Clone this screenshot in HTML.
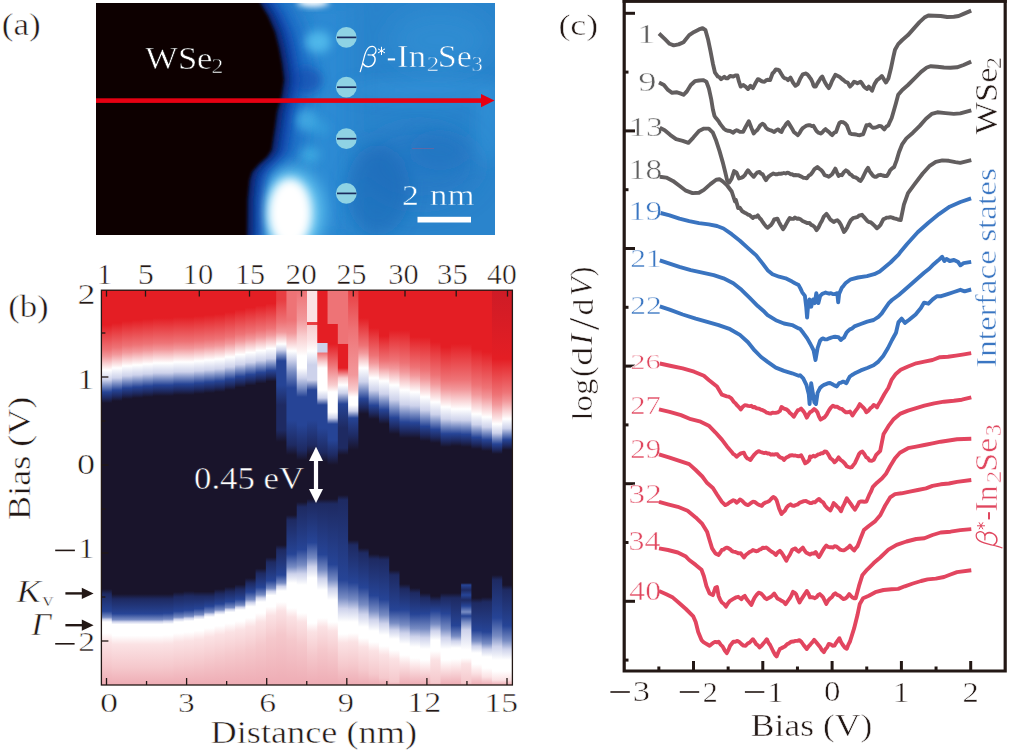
<!DOCTYPE html><html><head><meta charset="utf-8"><title>fig</title><style>html,body{margin:0;padding:0;background:#fff;}svg{display:block}</style></head><body><svg width="1010" height="750" viewBox="0 0 1010 750" font-family="'Liberation Serif', serif"><defs><clipPath id="ca"><rect x="96" y="3" width="399" height="232"/></clipPath><filter id="b1" x="-50%" y="-50%" width="200%" height="200%"><feGaussianBlur stdDeviation="1.5"/></filter><filter id="b3" x="-50%" y="-50%" width="200%" height="200%"><feGaussianBlur stdDeviation="3"/></filter><filter id="b5" x="-50%" y="-50%" width="200%" height="200%"><feGaussianBlur stdDeviation="5"/></filter><filter id="b8" x="-50%" y="-50%" width="200%" height="200%"><feGaussianBlur stdDeviation="8"/></filter><filter id="b12" x="-50%" y="-50%" width="200%" height="200%"><feGaussianBlur stdDeviation="12"/></filter></defs><g clip-path="url(#ca)"><rect x="96" y="3" width="399" height="232" fill="#2a84cc"/><g filter="url(#b12)"><rect x="300" y="0" width="50" height="240" fill="#2d8fd8" opacity="0.6"/><ellipse cx="440" cy="40" rx="50" ry="30" fill="#3296da" opacity="0.45"/><ellipse cx="420" cy="165" rx="60" ry="40" fill="#1f72c0" opacity="0.45"/></g><g filter="url(#b8)"><ellipse cx="425" cy="90" rx="80" ry="9" fill="#3aa0e4" opacity="0.45"/><ellipse cx="378" cy="190" rx="32" ry="45" fill="#1a62b2" opacity="0.45"/><ellipse cx="488" cy="125" rx="10" ry="40" fill="#3aa0e4" opacity="0.4"/><ellipse cx="440" cy="150" rx="30" ry="20" fill="#1e6cbc" opacity="0.35"/></g><path d="M80,-10 L287.0,-5 L290.0,3 L298.0,16 L305.0,32 L309.0,48 L312.0,64 L314.0,80 L311.5,96 L307.0,112 L305.0,127 L303.0,140 L301.5,150 L297.0,157 L289.0,164 L282.0,172 L279.5,180 L277.5,200 L277.0,240 L80,245 Z" fill="#1f6cc6" filter="url(#b8)" opacity="0.9"/><g filter="url(#b5)"><ellipse cx="318" cy="42" rx="13" ry="11" fill="#56c0ee" opacity="0.85"/><ellipse cx="306" cy="120" rx="12" ry="11" fill="#45b2e6" opacity="0.75"/><ellipse cx="310" cy="155" rx="10" ry="8" fill="#45b2e6" opacity="0.7"/><ellipse cx="320" cy="128" rx="10" ry="7" fill="#3aa8e2" opacity="0.5"/></g><g filter="url(#b8)"><ellipse cx="291" cy="212" rx="33" ry="44" fill="#62c4f0"/></g><g filter="url(#b5)"><ellipse cx="306" cy="80" rx="16" ry="13" fill="#1554b4" opacity="0.8"/></g><path d="M80,-10 L273.0,-5 L276.0,3 L284.0,16 L291.0,32 L295.0,48 L298.0,64 L300.0,80 L297.5,96 L293.0,112 L291.0,127 L289.0,140 L287.5,150 L283.0,157 L275.0,164 L268.0,172 L265.5,180 L263.5,200 L263.0,240 L80,245 Z" fill="#0d40a4" filter="url(#b5)" opacity="0.8"/><path d="M80,-10 L263.0,-5 L266.0,3 L274.0,16 L281.0,32 L285.0,48 L288.0,64 L290.0,80 L287.5,96 L283.0,112 L281.0,127 L279.0,140 L277.5,150 L273.0,157 L265.0,164 L258.0,172 L255.5,180 L253.5,200 L253.0,240 L80,245 Z" fill="#08206a" filter="url(#b3)"/><g filter="url(#b5)"><ellipse cx="290" cy="213" rx="22" ry="35" fill="#ffffff"/></g><g filter="url(#b3)"><ellipse cx="313" cy="2" rx="16" ry="5" fill="#ffffff"/></g><path d="M80,-10 L257.0,-5 L260.0,3 L268.0,16 L275.0,32 L279.0,48 L282.0,64 L284.0,80 L281.5,96 L277.0,112 L275.0,127 L273.0,140 L271.5,150 L267.0,157 L259.0,164 L252.0,172 L249.5,180 L247.5,200 L247.0,240 L80,245 Z" fill="#080606" filter="url(#b1)"/><line x1="412" y1="148.5" x2="434" y2="148.5" stroke="#9a5a8a" stroke-width="0.8" opacity="0.6"/></g><rect x="96" y="98.3" width="386" height="4.6" fill="#e60012"/><path d="M481,94 L494.5,100.5 L481,107.2 Z" fill="#e60012"/><circle cx="346.3" cy="37.4" r="10.4" fill="#8fd3e4"/><rect x="337" y="36.55" width="19.4" height="1.7" fill="#1b2a5c"/><circle cx="346.3" cy="87.2" r="10.4" fill="#8fd3e4"/><rect x="337" y="86.35" width="19.4" height="1.7" fill="#1b2a5c"/><circle cx="346.3" cy="138.7" r="10.4" fill="#8fd3e4"/><rect x="337" y="137.85" width="19.4" height="1.7" fill="#1b2a5c"/><circle cx="346.3" cy="193.4" r="10.4" fill="#8fd3e4"/><rect x="337" y="192.55" width="19.4" height="1.7" fill="#1b2a5c"/><rect x="417.5" y="216.8" width="53.5" height="5.7" fill="#ffffff"/><text transform="translate(1.72,35.22) scale(1.1006,1)" font-size="31.98" fill="#231815" stroke="#ffffff" stroke-width="0.5">(a)</text><text transform="translate(145.30,69.31) scale(1.0602,1)" font-size="32.59" fill="#ffffff" stroke="#080606" stroke-width="0.5">WSe</text><text transform="translate(211.54,73.00) scale(1.1239,1)" font-size="20.91" fill="#ffffff" stroke="#080606" stroke-width="0.5">2</text><g fill="none" stroke="#ffffff" stroke-linecap="round" stroke-linejoin="round"><path d="M360.20,71.70 C360.47,70.83 361.27,68.43 361.80,66.50 C362.33,64.57 362.87,62.15 363.40,60.10 C363.93,58.05 364.40,55.93 365.00,54.20 C365.60,52.47 366.25,50.88 367.00,49.70 C367.75,48.52 368.63,47.65 369.50,47.10 C370.37,46.55 371.37,46.40 372.20,46.40 C373.03,46.40 373.90,46.62 374.50,47.10 C375.10,47.58 375.57,48.57 375.80,49.30 C376.03,50.03 376.07,50.78 375.90,51.50 C375.73,52.22 375.28,53.07 374.80,53.60 C374.32,54.13 373.73,54.47 373.00,54.70 C372.27,54.93 371.23,54.97 370.40,55.00 C369.57,55.03 368.40,54.92 368.00,54.90" stroke-width="1.2"/><path d="M372.60,55.00 C372.90,55.27 373.98,55.90 374.40,56.60 C374.82,57.30 375.10,58.23 375.10,59.20 C375.10,60.17 374.82,61.43 374.40,62.40 C373.98,63.37 373.33,64.33 372.60,65.00 C371.87,65.67 370.93,66.13 370.00,66.40 C369.07,66.67 367.87,66.73 367.00,66.60 C366.13,66.47 365.42,66.05 364.80,65.60 C364.18,65.15 363.55,64.18 363.30,63.90" stroke-width="1.5"/></g><path d="M381.50,47.20 L381.50,54.60 M378.30,49.05 L384.70,52.75 M378.30,52.75 L384.70,49.05" stroke="#ffffff" stroke-width="1.0" stroke-linecap="round" fill="none"/><rect x="387.8" y="58.4" width="7.3" height="2" fill="#ffffff"/><text transform="translate(396.76,66.70) scale(1.1640,1)" font-size="30.53" fill="#ffffff" stroke="#2a84cc" stroke-width="0.5">In</text><text transform="translate(426.77,71.40) scale(1.1786,1)" font-size="21.21" fill="#ffffff" stroke="#2a84cc" stroke-width="0.5">2</text><text transform="translate(437.68,67.08) scale(1.0680,1)" font-size="31.94" fill="#ffffff" stroke="#2a84cc" stroke-width="0.5">Se</text><text transform="translate(471.58,71.20) scale(1.1325,1)" font-size="20.00" fill="#ffffff" stroke="#2a84cc" stroke-width="0.5">3</text><text transform="translate(401.88,205.30) scale(1.1724,1)" font-size="28.79" fill="#ffffff" stroke="#2a84cc" stroke-width="0.5">2</text><text transform="translate(430.10,205.30) scale(1.2108,1)" font-size="28.72" fill="#ffffff" stroke="#2a84cc" stroke-width="0.5">nm</text><defs><linearGradient id="h1" gradientUnits="userSpaceOnUse" x1="0" y1="290.0" x2="0" y2="685.0"><stop offset="0.0000" stop-color="#e41e24"/><stop offset="0.0886" stop-color="#e41e24"/><stop offset="0.1114" stop-color="#e83e42"/><stop offset="0.1513" stop-color="#ee7376"/><stop offset="0.1684" stop-color="#f2989b"/><stop offset="0.1854" stop-color="#f8cdcf"/><stop offset="0.2025" stop-color="#ffffff"/><stop offset="0.2276" stop-color="#cdd2eb"/><stop offset="0.2426" stop-color="#788cc3"/><stop offset="0.2585" stop-color="#264496"/><stop offset="0.2735" stop-color="#1e2a62"/><stop offset="0.2861" stop-color="#19142b"/><stop offset="0.7570" stop-color="#19142b"/><stop offset="0.7696" stop-color="#1e2a62"/><stop offset="0.8132" stop-color="#264496"/><stop offset="0.8284" stop-color="#788cc3"/><stop offset="0.8337" stop-color="#cdd2eb"/><stop offset="0.8405" stop-color="#ffffff"/><stop offset="0.8684" stop-color="#ffffff"/><stop offset="0.8911" stop-color="#fbe2e4"/><stop offset="0.9494" stop-color="#f5c8cc"/><stop offset="1.0000" stop-color="#eeacb4"/></linearGradient><linearGradient id="h2" gradientUnits="userSpaceOnUse" x1="0" y1="290.0" x2="0" y2="685.0"><stop offset="0.0000" stop-color="#e41e24"/><stop offset="0.0835" stop-color="#e41e24"/><stop offset="0.1063" stop-color="#e83e42"/><stop offset="0.1462" stop-color="#ee7376"/><stop offset="0.1633" stop-color="#f2989b"/><stop offset="0.1804" stop-color="#f8cdcf"/><stop offset="0.1975" stop-color="#ffffff"/><stop offset="0.2225" stop-color="#cdd2eb"/><stop offset="0.2376" stop-color="#788cc3"/><stop offset="0.2534" stop-color="#264496"/><stop offset="0.2685" stop-color="#1e2a62"/><stop offset="0.2810" stop-color="#19142b"/><stop offset="0.7696" stop-color="#19142b"/><stop offset="0.7823" stop-color="#1e2a62"/><stop offset="0.8195" stop-color="#264496"/><stop offset="0.8347" stop-color="#788cc3"/><stop offset="0.8400" stop-color="#cdd2eb"/><stop offset="0.8468" stop-color="#ffffff"/><stop offset="0.8747" stop-color="#ffffff"/><stop offset="0.8975" stop-color="#fbe2e4"/><stop offset="0.9557" stop-color="#f5c8cc"/><stop offset="1.0000" stop-color="#eeacb4"/></linearGradient><linearGradient id="h3" gradientUnits="userSpaceOnUse" x1="0" y1="290.0" x2="0" y2="685.0"><stop offset="0.0000" stop-color="#e41e24"/><stop offset="0.0785" stop-color="#e41e24"/><stop offset="0.1013" stop-color="#e83e42"/><stop offset="0.1411" stop-color="#ee7376"/><stop offset="0.1582" stop-color="#f2989b"/><stop offset="0.1753" stop-color="#f8cdcf"/><stop offset="0.1924" stop-color="#ffffff"/><stop offset="0.2175" stop-color="#cdd2eb"/><stop offset="0.2325" stop-color="#788cc3"/><stop offset="0.2484" stop-color="#264496"/><stop offset="0.2634" stop-color="#1e2a62"/><stop offset="0.2759" stop-color="#19142b"/><stop offset="0.7696" stop-color="#19142b"/><stop offset="0.7823" stop-color="#1e2a62"/><stop offset="0.8195" stop-color="#264496"/><stop offset="0.8347" stop-color="#788cc3"/><stop offset="0.8400" stop-color="#cdd2eb"/><stop offset="0.8468" stop-color="#ffffff"/><stop offset="0.8747" stop-color="#ffffff"/><stop offset="0.8975" stop-color="#fbe2e4"/><stop offset="0.9557" stop-color="#f5c8cc"/><stop offset="1.0000" stop-color="#eeacb4"/></linearGradient><linearGradient id="h4" gradientUnits="userSpaceOnUse" x1="0" y1="290.0" x2="0" y2="685.0"><stop offset="0.0000" stop-color="#e41e24"/><stop offset="0.0759" stop-color="#e41e24"/><stop offset="0.0987" stop-color="#e83e42"/><stop offset="0.1386" stop-color="#ee7376"/><stop offset="0.1557" stop-color="#f2989b"/><stop offset="0.1728" stop-color="#f8cdcf"/><stop offset="0.1899" stop-color="#ffffff"/><stop offset="0.2149" stop-color="#cdd2eb"/><stop offset="0.2300" stop-color="#788cc3"/><stop offset="0.2458" stop-color="#264496"/><stop offset="0.2609" stop-color="#1e2a62"/><stop offset="0.2734" stop-color="#19142b"/><stop offset="0.7696" stop-color="#19142b"/><stop offset="0.7823" stop-color="#1e2a62"/><stop offset="0.8195" stop-color="#264496"/><stop offset="0.8347" stop-color="#788cc3"/><stop offset="0.8400" stop-color="#cdd2eb"/><stop offset="0.8468" stop-color="#ffffff"/><stop offset="0.8747" stop-color="#ffffff"/><stop offset="0.8975" stop-color="#fbe2e4"/><stop offset="0.9557" stop-color="#f5c8cc"/><stop offset="1.0000" stop-color="#eeacb4"/></linearGradient><linearGradient id="h5" gradientUnits="userSpaceOnUse" x1="0" y1="290.0" x2="0" y2="685.0"><stop offset="0.0000" stop-color="#e41e24"/><stop offset="0.0734" stop-color="#e41e24"/><stop offset="0.0962" stop-color="#e83e42"/><stop offset="0.1361" stop-color="#ee7376"/><stop offset="0.1532" stop-color="#f2989b"/><stop offset="0.1703" stop-color="#f8cdcf"/><stop offset="0.1873" stop-color="#ffffff"/><stop offset="0.2124" stop-color="#cdd2eb"/><stop offset="0.2274" stop-color="#788cc3"/><stop offset="0.2433" stop-color="#264496"/><stop offset="0.2584" stop-color="#1e2a62"/><stop offset="0.2709" stop-color="#19142b"/><stop offset="0.7696" stop-color="#19142b"/><stop offset="0.7823" stop-color="#1e2a62"/><stop offset="0.8195" stop-color="#264496"/><stop offset="0.8347" stop-color="#788cc3"/><stop offset="0.8400" stop-color="#cdd2eb"/><stop offset="0.8468" stop-color="#ffffff"/><stop offset="0.8747" stop-color="#ffffff"/><stop offset="0.8975" stop-color="#fbe2e4"/><stop offset="0.9557" stop-color="#f5c8cc"/><stop offset="1.0000" stop-color="#eeacb4"/></linearGradient><linearGradient id="h6" gradientUnits="userSpaceOnUse" x1="0" y1="290.0" x2="0" y2="685.0"><stop offset="0.0000" stop-color="#e41e24"/><stop offset="0.0709" stop-color="#e41e24"/><stop offset="0.0937" stop-color="#e83e42"/><stop offset="0.1335" stop-color="#ee7376"/><stop offset="0.1506" stop-color="#f2989b"/><stop offset="0.1677" stop-color="#f8cdcf"/><stop offset="0.1848" stop-color="#ffffff"/><stop offset="0.2099" stop-color="#cdd2eb"/><stop offset="0.2249" stop-color="#788cc3"/><stop offset="0.2408" stop-color="#264496"/><stop offset="0.2558" stop-color="#1e2a62"/><stop offset="0.2684" stop-color="#19142b"/><stop offset="0.7696" stop-color="#19142b"/><stop offset="0.7823" stop-color="#1e2a62"/><stop offset="0.8195" stop-color="#264496"/><stop offset="0.8347" stop-color="#788cc3"/><stop offset="0.8400" stop-color="#cdd2eb"/><stop offset="0.8468" stop-color="#ffffff"/><stop offset="0.8747" stop-color="#ffffff"/><stop offset="0.8975" stop-color="#fbe2e4"/><stop offset="0.9557" stop-color="#f5c8cc"/><stop offset="1.0000" stop-color="#eeacb4"/></linearGradient><linearGradient id="h7" gradientUnits="userSpaceOnUse" x1="0" y1="290.0" x2="0" y2="685.0"><stop offset="0.0000" stop-color="#e41e24"/><stop offset="0.0709" stop-color="#e41e24"/><stop offset="0.0937" stop-color="#e83e42"/><stop offset="0.1335" stop-color="#ee7376"/><stop offset="0.1506" stop-color="#f2989b"/><stop offset="0.1677" stop-color="#f8cdcf"/><stop offset="0.1848" stop-color="#ffffff"/><stop offset="0.2099" stop-color="#cdd2eb"/><stop offset="0.2249" stop-color="#788cc3"/><stop offset="0.2408" stop-color="#264496"/><stop offset="0.2558" stop-color="#1e2a62"/><stop offset="0.2684" stop-color="#19142b"/><stop offset="0.7696" stop-color="#19142b"/><stop offset="0.7823" stop-color="#1e2a62"/><stop offset="0.8182" stop-color="#264496"/><stop offset="0.8334" stop-color="#788cc3"/><stop offset="0.8387" stop-color="#cdd2eb"/><stop offset="0.8456" stop-color="#ffffff"/><stop offset="0.8734" stop-color="#ffffff"/><stop offset="0.8962" stop-color="#fbe2e4"/><stop offset="0.9544" stop-color="#f5c8cc"/><stop offset="1.0000" stop-color="#eeacb4"/></linearGradient><linearGradient id="h8" gradientUnits="userSpaceOnUse" x1="0" y1="290.0" x2="0" y2="685.0"><stop offset="0.0000" stop-color="#e41e24"/><stop offset="0.0684" stop-color="#e41e24"/><stop offset="0.0911" stop-color="#e83e42"/><stop offset="0.1310" stop-color="#ee7376"/><stop offset="0.1481" stop-color="#f2989b"/><stop offset="0.1652" stop-color="#f8cdcf"/><stop offset="0.1823" stop-color="#ffffff"/><stop offset="0.2073" stop-color="#cdd2eb"/><stop offset="0.2224" stop-color="#788cc3"/><stop offset="0.2383" stop-color="#264496"/><stop offset="0.2533" stop-color="#1e2a62"/><stop offset="0.2658" stop-color="#19142b"/><stop offset="0.7646" stop-color="#19142b"/><stop offset="0.7772" stop-color="#1e2a62"/><stop offset="0.8132" stop-color="#264496"/><stop offset="0.8284" stop-color="#788cc3"/><stop offset="0.8337" stop-color="#cdd2eb"/><stop offset="0.8405" stop-color="#ffffff"/><stop offset="0.8684" stop-color="#ffffff"/><stop offset="0.8911" stop-color="#fbe2e4"/><stop offset="0.9494" stop-color="#f5c8cc"/><stop offset="1.0000" stop-color="#eeacb4"/></linearGradient><linearGradient id="h9" gradientUnits="userSpaceOnUse" x1="0" y1="290.0" x2="0" y2="685.0"><stop offset="0.0000" stop-color="#e41e24"/><stop offset="0.0684" stop-color="#e41e24"/><stop offset="0.0911" stop-color="#e83e42"/><stop offset="0.1310" stop-color="#ee7376"/><stop offset="0.1481" stop-color="#f2989b"/><stop offset="0.1652" stop-color="#f8cdcf"/><stop offset="0.1823" stop-color="#ffffff"/><stop offset="0.2073" stop-color="#cdd2eb"/><stop offset="0.2224" stop-color="#788cc3"/><stop offset="0.2383" stop-color="#264496"/><stop offset="0.2533" stop-color="#1e2a62"/><stop offset="0.2658" stop-color="#19142b"/><stop offset="0.7620" stop-color="#19142b"/><stop offset="0.7747" stop-color="#1e2a62"/><stop offset="0.8106" stop-color="#264496"/><stop offset="0.8258" stop-color="#788cc3"/><stop offset="0.8311" stop-color="#cdd2eb"/><stop offset="0.8380" stop-color="#ffffff"/><stop offset="0.8658" stop-color="#ffffff"/><stop offset="0.8886" stop-color="#fbe2e4"/><stop offset="0.9468" stop-color="#f5c8cc"/><stop offset="1.0000" stop-color="#eeacb4"/></linearGradient><linearGradient id="h10" gradientUnits="userSpaceOnUse" x1="0" y1="290.0" x2="0" y2="685.0"><stop offset="0.0000" stop-color="#e41e24"/><stop offset="0.0658" stop-color="#e41e24"/><stop offset="0.0886" stop-color="#e83e42"/><stop offset="0.1285" stop-color="#ee7376"/><stop offset="0.1456" stop-color="#f2989b"/><stop offset="0.1627" stop-color="#f8cdcf"/><stop offset="0.1797" stop-color="#ffffff"/><stop offset="0.2048" stop-color="#cdd2eb"/><stop offset="0.2198" stop-color="#788cc3"/><stop offset="0.2357" stop-color="#264496"/><stop offset="0.2508" stop-color="#1e2a62"/><stop offset="0.2633" stop-color="#19142b"/><stop offset="0.7633" stop-color="#19142b"/><stop offset="0.7759" stop-color="#1e2a62"/><stop offset="0.8068" stop-color="#264496"/><stop offset="0.8220" stop-color="#788cc3"/><stop offset="0.8273" stop-color="#cdd2eb"/><stop offset="0.8342" stop-color="#ffffff"/><stop offset="0.8620" stop-color="#ffffff"/><stop offset="0.8848" stop-color="#fbe2e4"/><stop offset="0.9430" stop-color="#f5c8cc"/><stop offset="1.0000" stop-color="#eeacb4"/></linearGradient><linearGradient id="h11" gradientUnits="userSpaceOnUse" x1="0" y1="290.0" x2="0" y2="685.0"><stop offset="0.0000" stop-color="#e41e24"/><stop offset="0.0633" stop-color="#e41e24"/><stop offset="0.0861" stop-color="#e83e42"/><stop offset="0.1259" stop-color="#ee7376"/><stop offset="0.1430" stop-color="#f2989b"/><stop offset="0.1601" stop-color="#f8cdcf"/><stop offset="0.1772" stop-color="#ffffff"/><stop offset="0.2023" stop-color="#cdd2eb"/><stop offset="0.2173" stop-color="#788cc3"/><stop offset="0.2332" stop-color="#264496"/><stop offset="0.2482" stop-color="#1e2a62"/><stop offset="0.2608" stop-color="#19142b"/><stop offset="0.7633" stop-color="#19142b"/><stop offset="0.7759" stop-color="#1e2a62"/><stop offset="0.8005" stop-color="#264496"/><stop offset="0.8157" stop-color="#788cc3"/><stop offset="0.8210" stop-color="#cdd2eb"/><stop offset="0.8278" stop-color="#ffffff"/><stop offset="0.8557" stop-color="#ffffff"/><stop offset="0.8785" stop-color="#fbe2e4"/><stop offset="0.9367" stop-color="#f5c8cc"/><stop offset="1.0000" stop-color="#eeacb4"/></linearGradient><linearGradient id="h12" gradientUnits="userSpaceOnUse" x1="0" y1="290.0" x2="0" y2="685.0"><stop offset="0.0000" stop-color="#e41e24"/><stop offset="0.0608" stop-color="#e41e24"/><stop offset="0.0835" stop-color="#e83e42"/><stop offset="0.1234" stop-color="#ee7376"/><stop offset="0.1405" stop-color="#f2989b"/><stop offset="0.1576" stop-color="#f8cdcf"/><stop offset="0.1747" stop-color="#ffffff"/><stop offset="0.1997" stop-color="#cdd2eb"/><stop offset="0.2148" stop-color="#788cc3"/><stop offset="0.2307" stop-color="#264496"/><stop offset="0.2457" stop-color="#1e2a62"/><stop offset="0.2582" stop-color="#19142b"/><stop offset="0.7570" stop-color="#19142b"/><stop offset="0.7696" stop-color="#1e2a62"/><stop offset="0.7947" stop-color="#264496"/><stop offset="0.8099" stop-color="#788cc3"/><stop offset="0.8152" stop-color="#cdd2eb"/><stop offset="0.8220" stop-color="#ffffff"/><stop offset="0.8499" stop-color="#ffffff"/><stop offset="0.8727" stop-color="#fbe2e4"/><stop offset="0.9309" stop-color="#f5c8cc"/><stop offset="1.0000" stop-color="#eeacb4"/></linearGradient><linearGradient id="h13" gradientUnits="userSpaceOnUse" x1="0" y1="290.0" x2="0" y2="685.0"><stop offset="0.0000" stop-color="#e41e24"/><stop offset="0.0557" stop-color="#e41e24"/><stop offset="0.0785" stop-color="#e83e42"/><stop offset="0.1184" stop-color="#ee7376"/><stop offset="0.1354" stop-color="#f2989b"/><stop offset="0.1525" stop-color="#f8cdcf"/><stop offset="0.1696" stop-color="#ffffff"/><stop offset="0.1947" stop-color="#cdd2eb"/><stop offset="0.2097" stop-color="#788cc3"/><stop offset="0.2256" stop-color="#264496"/><stop offset="0.2406" stop-color="#1e2a62"/><stop offset="0.2532" stop-color="#19142b"/><stop offset="0.7514" stop-color="#19142b"/><stop offset="0.7641" stop-color="#1e2a62"/><stop offset="0.7886" stop-color="#264496"/><stop offset="0.8038" stop-color="#788cc3"/><stop offset="0.8091" stop-color="#cdd2eb"/><stop offset="0.8159" stop-color="#ffffff"/><stop offset="0.8438" stop-color="#ffffff"/><stop offset="0.8666" stop-color="#fbe2e4"/><stop offset="0.9248" stop-color="#f5c8cc"/><stop offset="1.0000" stop-color="#eeacb4"/></linearGradient><linearGradient id="h14" gradientUnits="userSpaceOnUse" x1="0" y1="290.0" x2="0" y2="685.0"><stop offset="0.0000" stop-color="#e41e24"/><stop offset="0.0494" stop-color="#e41e24"/><stop offset="0.0722" stop-color="#e83e42"/><stop offset="0.1120" stop-color="#ee7376"/><stop offset="0.1291" stop-color="#f2989b"/><stop offset="0.1462" stop-color="#f8cdcf"/><stop offset="0.1633" stop-color="#ffffff"/><stop offset="0.1884" stop-color="#cdd2eb"/><stop offset="0.2034" stop-color="#788cc3"/><stop offset="0.2193" stop-color="#264496"/><stop offset="0.2343" stop-color="#1e2a62"/><stop offset="0.2468" stop-color="#19142b"/><stop offset="0.7453" stop-color="#19142b"/><stop offset="0.7580" stop-color="#1e2a62"/><stop offset="0.7828" stop-color="#264496"/><stop offset="0.7980" stop-color="#788cc3"/><stop offset="0.8033" stop-color="#cdd2eb"/><stop offset="0.8101" stop-color="#ffffff"/><stop offset="0.8380" stop-color="#ffffff"/><stop offset="0.8608" stop-color="#fbe2e4"/><stop offset="0.9190" stop-color="#f5c8cc"/><stop offset="1.0000" stop-color="#eeacb4"/></linearGradient><linearGradient id="h15" gradientUnits="userSpaceOnUse" x1="0" y1="290.0" x2="0" y2="685.0"><stop offset="0.0000" stop-color="#e41e24"/><stop offset="0.0443" stop-color="#e41e24"/><stop offset="0.0671" stop-color="#e83e42"/><stop offset="0.1070" stop-color="#ee7376"/><stop offset="0.1241" stop-color="#f2989b"/><stop offset="0.1411" stop-color="#f8cdcf"/><stop offset="0.1582" stop-color="#ffffff"/><stop offset="0.1833" stop-color="#cdd2eb"/><stop offset="0.1983" stop-color="#788cc3"/><stop offset="0.2142" stop-color="#264496"/><stop offset="0.2292" stop-color="#1e2a62"/><stop offset="0.2418" stop-color="#19142b"/><stop offset="0.7291" stop-color="#19142b"/><stop offset="0.7418" stop-color="#1e2a62"/><stop offset="0.7646" stop-color="#264496"/><stop offset="0.7835" stop-color="#788cc3"/><stop offset="0.7915" stop-color="#cdd2eb"/><stop offset="0.8018" stop-color="#ffffff"/><stop offset="0.8296" stop-color="#ffffff"/><stop offset="0.8524" stop-color="#fbe2e4"/><stop offset="0.9106" stop-color="#f5c8cc"/><stop offset="1.0000" stop-color="#eeacb4"/></linearGradient><linearGradient id="h16" gradientUnits="userSpaceOnUse" x1="0" y1="290.0" x2="0" y2="685.0"><stop offset="0.0000" stop-color="#e41e24"/><stop offset="0.0392" stop-color="#e41e24"/><stop offset="0.0620" stop-color="#e83e42"/><stop offset="0.1019" stop-color="#ee7376"/><stop offset="0.1190" stop-color="#f2989b"/><stop offset="0.1361" stop-color="#f8cdcf"/><stop offset="0.1532" stop-color="#ffffff"/><stop offset="0.1782" stop-color="#cdd2eb"/><stop offset="0.1933" stop-color="#788cc3"/><stop offset="0.2091" stop-color="#264496"/><stop offset="0.2242" stop-color="#1e2a62"/><stop offset="0.2367" stop-color="#19142b"/><stop offset="0.7048" stop-color="#19142b"/><stop offset="0.7175" stop-color="#1e2a62"/><stop offset="0.7527" stop-color="#264496"/><stop offset="0.7716" stop-color="#788cc3"/><stop offset="0.7796" stop-color="#cdd2eb"/><stop offset="0.7899" stop-color="#ffffff"/><stop offset="0.8177" stop-color="#ffffff"/><stop offset="0.8405" stop-color="#fbe2e4"/><stop offset="0.8987" stop-color="#f5c8cc"/><stop offset="1.0000" stop-color="#eeacb4"/></linearGradient><linearGradient id="h17" gradientUnits="userSpaceOnUse" x1="0" y1="290.0" x2="0" y2="685.0"><stop offset="0.0000" stop-color="#e41e24"/><stop offset="0.0342" stop-color="#e41e24"/><stop offset="0.0570" stop-color="#e83e42"/><stop offset="0.0968" stop-color="#ee7376"/><stop offset="0.1139" stop-color="#f2989b"/><stop offset="0.1310" stop-color="#f8cdcf"/><stop offset="0.1481" stop-color="#ffffff"/><stop offset="0.1732" stop-color="#cdd2eb"/><stop offset="0.1882" stop-color="#788cc3"/><stop offset="0.2041" stop-color="#264496"/><stop offset="0.2191" stop-color="#1e2a62"/><stop offset="0.2316" stop-color="#19142b"/><stop offset="0.6765" stop-color="#19142b"/><stop offset="0.6891" stop-color="#1e2a62"/><stop offset="0.7362" stop-color="#264496"/><stop offset="0.7552" stop-color="#788cc3"/><stop offset="0.7632" stop-color="#cdd2eb"/><stop offset="0.7734" stop-color="#ffffff"/><stop offset="0.8013" stop-color="#ffffff"/><stop offset="0.8241" stop-color="#fbe2e4"/><stop offset="0.8823" stop-color="#f5c8cc"/><stop offset="1.0000" stop-color="#eeacb4"/></linearGradient><linearGradient id="h18" gradientUnits="userSpaceOnUse" x1="0" y1="290.0" x2="0" y2="685.0"><stop offset="0.0000" stop-color="#e83e42"/><stop offset="0.0253" stop-color="#e83e42"/><stop offset="0.0810" stop-color="#ee7376"/><stop offset="0.1063" stop-color="#f2989b"/><stop offset="0.1215" stop-color="#f8cdcf"/><stop offset="0.1367" stop-color="#ffffff"/><stop offset="0.1519" stop-color="#cdd2eb"/><stop offset="0.1646" stop-color="#788cc3"/><stop offset="0.1797" stop-color="#264496"/><stop offset="0.2405" stop-color="#264496"/><stop offset="0.2911" stop-color="#1e2a62"/><stop offset="0.3544" stop-color="#1e2a62"/><stop offset="0.3848" stop-color="#19142b"/><stop offset="0.6456" stop-color="#19142b"/><stop offset="0.6582" stop-color="#1e2a62"/><stop offset="0.7215" stop-color="#264496"/><stop offset="0.7418" stop-color="#788cc3"/><stop offset="0.7506" stop-color="#cdd2eb"/><stop offset="0.7620" stop-color="#ffffff"/><stop offset="0.7899" stop-color="#ffffff"/><stop offset="0.8127" stop-color="#fbe2e4"/><stop offset="0.8709" stop-color="#f5c8cc"/><stop offset="1.0000" stop-color="#eeacb4"/></linearGradient><linearGradient id="h19" gradientUnits="userSpaceOnUse" x1="0" y1="290.0" x2="0" y2="685.0"><stop offset="0.0000" stop-color="#ee7376"/><stop offset="0.0759" stop-color="#ee7376"/><stop offset="0.1089" stop-color="#f2989b"/><stop offset="0.1316" stop-color="#f8cdcf"/><stop offset="0.1544" stop-color="#ffffff"/><stop offset="0.1772" stop-color="#cdd2eb"/><stop offset="0.2076" stop-color="#788cc3"/><stop offset="0.2481" stop-color="#264496"/><stop offset="0.3291" stop-color="#264496"/><stop offset="0.3924" stop-color="#1e2a62"/><stop offset="0.4177" stop-color="#19142b"/><stop offset="0.5696" stop-color="#19142b"/><stop offset="0.5823" stop-color="#1e2a62"/><stop offset="0.6684" stop-color="#264496"/><stop offset="0.7013" stop-color="#788cc3"/><stop offset="0.7190" stop-color="#cdd2eb"/><stop offset="0.7418" stop-color="#ffffff"/><stop offset="0.8051" stop-color="#ffffff"/><stop offset="0.8278" stop-color="#fbe2e4"/><stop offset="0.8861" stop-color="#f5c8cc"/><stop offset="1.0000" stop-color="#eeacb4"/></linearGradient><linearGradient id="h20" gradientUnits="userSpaceOnUse" x1="0" y1="290.0" x2="0" y2="685.0"><stop offset="0.0000" stop-color="#ee7376"/><stop offset="0.0759" stop-color="#f2989b"/><stop offset="0.1165" stop-color="#f8cdcf"/><stop offset="0.1671" stop-color="#ffffff"/><stop offset="0.1975" stop-color="#ffffff"/><stop offset="0.2228" stop-color="#cdd2eb"/><stop offset="0.2481" stop-color="#788cc3"/><stop offset="0.2709" stop-color="#264496"/><stop offset="0.3418" stop-color="#264496"/><stop offset="0.4051" stop-color="#1e2a62"/><stop offset="0.4304" stop-color="#19142b"/><stop offset="0.5367" stop-color="#19142b"/><stop offset="0.5494" stop-color="#1e2a62"/><stop offset="0.6570" stop-color="#264496"/><stop offset="0.6962" stop-color="#788cc3"/><stop offset="0.7184" stop-color="#cdd2eb"/><stop offset="0.7468" stop-color="#ffffff"/><stop offset="0.8177" stop-color="#ffffff"/><stop offset="0.8405" stop-color="#fbe2e4"/><stop offset="0.8987" stop-color="#f5c8cc"/><stop offset="1.0000" stop-color="#eeacb4"/></linearGradient><linearGradient id="h21" gradientUnits="userSpaceOnUse" x1="0" y1="290.0" x2="0" y2="685.0"><stop offset="0.0000" stop-color="#fbe2e4"/><stop offset="0.0810" stop-color="#fbe2e4"/><stop offset="0.0823" stop-color="#e83e42"/><stop offset="0.0873" stop-color="#e83e42"/><stop offset="0.0886" stop-color="#f8cdcf"/><stop offset="0.1266" stop-color="#fbe2e4"/><stop offset="0.1544" stop-color="#ffffff"/><stop offset="0.1899" stop-color="#cdd2eb"/><stop offset="0.2278" stop-color="#cdd2eb"/><stop offset="0.2532" stop-color="#264496"/><stop offset="0.3291" stop-color="#264496"/><stop offset="0.3924" stop-color="#1e2a62"/><stop offset="0.4177" stop-color="#19142b"/><stop offset="0.5291" stop-color="#19142b"/><stop offset="0.5418" stop-color="#1e2a62"/><stop offset="0.6392" stop-color="#264496"/><stop offset="0.6785" stop-color="#788cc3"/><stop offset="0.7006" stop-color="#cdd2eb"/><stop offset="0.7291" stop-color="#ffffff"/><stop offset="0.8430" stop-color="#ffffff"/><stop offset="0.8658" stop-color="#fbe2e4"/><stop offset="0.9241" stop-color="#f5c8cc"/><stop offset="1.0000" stop-color="#eeacb4"/></linearGradient><linearGradient id="h22" gradientUnits="userSpaceOnUse" x1="0" y1="290.0" x2="0" y2="685.0"><stop offset="0.0000" stop-color="#e41e24"/><stop offset="0.1329" stop-color="#e41e24"/><stop offset="0.1342" stop-color="#cdd2eb"/><stop offset="0.1570" stop-color="#cdd2eb"/><stop offset="0.1595" stop-color="#ee7376"/><stop offset="0.1823" stop-color="#f8cdcf"/><stop offset="0.1975" stop-color="#ffffff"/><stop offset="0.2532" stop-color="#ffffff"/><stop offset="0.2734" stop-color="#cdd2eb"/><stop offset="0.2911" stop-color="#264496"/><stop offset="0.3494" stop-color="#264496"/><stop offset="0.4101" stop-color="#1e2a62"/><stop offset="0.4354" stop-color="#19142b"/><stop offset="0.5291" stop-color="#19142b"/><stop offset="0.5418" stop-color="#1e2a62"/><stop offset="0.6696" stop-color="#264496"/><stop offset="0.7089" stop-color="#788cc3"/><stop offset="0.7310" stop-color="#cdd2eb"/><stop offset="0.7595" stop-color="#ffffff"/><stop offset="0.8304" stop-color="#ffffff"/><stop offset="0.8532" stop-color="#fbe2e4"/><stop offset="0.9114" stop-color="#f5c8cc"/><stop offset="1.0000" stop-color="#eeacb4"/></linearGradient><linearGradient id="h23" gradientUnits="userSpaceOnUse" x1="0" y1="290.0" x2="0" y2="685.0"><stop offset="0.0000" stop-color="#ee7376"/><stop offset="0.0848" stop-color="#ee7376"/><stop offset="0.0861" stop-color="#e41e24"/><stop offset="0.1367" stop-color="#e41e24"/><stop offset="0.1899" stop-color="#ee7376"/><stop offset="0.2405" stop-color="#f8cdcf"/><stop offset="0.2582" stop-color="#ffffff"/><stop offset="0.3089" stop-color="#ffffff"/><stop offset="0.3241" stop-color="#cdd2eb"/><stop offset="0.3392" stop-color="#264496"/><stop offset="0.3797" stop-color="#264496"/><stop offset="0.4177" stop-color="#1e2a62"/><stop offset="0.4430" stop-color="#19142b"/><stop offset="0.5291" stop-color="#19142b"/><stop offset="0.5418" stop-color="#1e2a62"/><stop offset="0.6949" stop-color="#264496"/><stop offset="0.7342" stop-color="#788cc3"/><stop offset="0.7563" stop-color="#cdd2eb"/><stop offset="0.7848" stop-color="#ffffff"/><stop offset="0.8405" stop-color="#ffffff"/><stop offset="0.8633" stop-color="#fbe2e4"/><stop offset="0.9215" stop-color="#f5c8cc"/><stop offset="1.0000" stop-color="#eeacb4"/></linearGradient><linearGradient id="h24" gradientUnits="userSpaceOnUse" x1="0" y1="290.0" x2="0" y2="685.0"><stop offset="0.0000" stop-color="#ee7376"/><stop offset="0.1354" stop-color="#ee7376"/><stop offset="0.1367" stop-color="#e41e24"/><stop offset="0.1975" stop-color="#e41e24"/><stop offset="0.2228" stop-color="#f8cdcf"/><stop offset="0.2405" stop-color="#ffffff"/><stop offset="0.2608" stop-color="#cdd2eb"/><stop offset="0.2886" stop-color="#264496"/><stop offset="0.3494" stop-color="#1e2a62"/><stop offset="0.4000" stop-color="#1e2a62"/><stop offset="0.4177" stop-color="#19142b"/><stop offset="0.5190" stop-color="#19142b"/><stop offset="0.5316" stop-color="#1e2a62"/><stop offset="0.7342" stop-color="#264496"/><stop offset="0.7797" stop-color="#788cc3"/><stop offset="0.8063" stop-color="#cdd2eb"/><stop offset="0.8405" stop-color="#ffffff"/><stop offset="0.8709" stop-color="#ffffff"/><stop offset="0.8937" stop-color="#fbe2e4"/><stop offset="0.9519" stop-color="#f5c8cc"/><stop offset="1.0000" stop-color="#eeacb4"/></linearGradient><linearGradient id="h25" gradientUnits="userSpaceOnUse" x1="0" y1="290.0" x2="0" y2="685.0"><stop offset="0.0000" stop-color="#e83e42"/><stop offset="0.1013" stop-color="#ee7376"/><stop offset="0.2152" stop-color="#f2989b"/><stop offset="0.2532" stop-color="#f8cdcf"/><stop offset="0.2709" stop-color="#ffffff"/><stop offset="0.2911" stop-color="#ffffff"/><stop offset="0.3063" stop-color="#cdd2eb"/><stop offset="0.3241" stop-color="#264496"/><stop offset="0.3696" stop-color="#1e2a62"/><stop offset="0.4051" stop-color="#19142b"/><stop offset="0.6329" stop-color="#19142b"/><stop offset="0.6456" stop-color="#1e2a62"/><stop offset="0.7408" stop-color="#264496"/><stop offset="0.7838" stop-color="#788cc3"/><stop offset="0.8086" stop-color="#cdd2eb"/><stop offset="0.8405" stop-color="#ffffff"/><stop offset="0.8684" stop-color="#ffffff"/><stop offset="0.8911" stop-color="#fbe2e4"/><stop offset="0.9494" stop-color="#f5c8cc"/><stop offset="1.0000" stop-color="#eeacb4"/></linearGradient><linearGradient id="h26" gradientUnits="userSpaceOnUse" x1="0" y1="290.0" x2="0" y2="685.0"><stop offset="0.0000" stop-color="#e41e24"/><stop offset="0.0709" stop-color="#e41e24"/><stop offset="0.0962" stop-color="#e83e42"/><stop offset="0.1405" stop-color="#ee7376"/><stop offset="0.1595" stop-color="#f2989b"/><stop offset="0.1785" stop-color="#f8cdcf"/><stop offset="0.1975" stop-color="#ffffff"/><stop offset="0.2324" stop-color="#cdd2eb"/><stop offset="0.2534" stop-color="#788cc3"/><stop offset="0.2755" stop-color="#264496"/><stop offset="0.2965" stop-color="#1e2a62"/><stop offset="0.3139" stop-color="#19142b"/><stop offset="0.6532" stop-color="#19142b"/><stop offset="0.6658" stop-color="#1e2a62"/><stop offset="0.7534" stop-color="#264496"/><stop offset="0.7965" stop-color="#788cc3"/><stop offset="0.8213" stop-color="#cdd2eb"/><stop offset="0.8532" stop-color="#ffffff"/><stop offset="0.8810" stop-color="#ffffff"/><stop offset="0.9038" stop-color="#fbe2e4"/><stop offset="0.9620" stop-color="#f5c8cc"/><stop offset="1.0000" stop-color="#eeacb4"/></linearGradient><linearGradient id="h27" gradientUnits="userSpaceOnUse" x1="0" y1="290.0" x2="0" y2="685.0"><stop offset="0.0000" stop-color="#e41e24"/><stop offset="0.0962" stop-color="#e41e24"/><stop offset="0.1215" stop-color="#e83e42"/><stop offset="0.1658" stop-color="#ee7376"/><stop offset="0.1848" stop-color="#f2989b"/><stop offset="0.2038" stop-color="#f8cdcf"/><stop offset="0.2228" stop-color="#ffffff"/><stop offset="0.2539" stop-color="#cdd2eb"/><stop offset="0.2726" stop-color="#788cc3"/><stop offset="0.2923" stop-color="#264496"/><stop offset="0.3110" stop-color="#1e2a62"/><stop offset="0.3266" stop-color="#19142b"/><stop offset="0.6684" stop-color="#19142b"/><stop offset="0.6810" stop-color="#1e2a62"/><stop offset="0.7734" stop-color="#264496"/><stop offset="0.8127" stop-color="#788cc3"/><stop offset="0.8348" stop-color="#cdd2eb"/><stop offset="0.8633" stop-color="#ffffff"/><stop offset="0.8911" stop-color="#ffffff"/><stop offset="0.9139" stop-color="#fbe2e4"/><stop offset="0.9722" stop-color="#f5c8cc"/><stop offset="1.0000" stop-color="#eeacb4"/></linearGradient><linearGradient id="h28" gradientUnits="userSpaceOnUse" x1="0" y1="290.0" x2="0" y2="685.0"><stop offset="0.0000" stop-color="#e41e24"/><stop offset="0.1165" stop-color="#e41e24"/><stop offset="0.1392" stop-color="#e83e42"/><stop offset="0.1791" stop-color="#ee7376"/><stop offset="0.1962" stop-color="#f2989b"/><stop offset="0.2133" stop-color="#f8cdcf"/><stop offset="0.2304" stop-color="#ffffff"/><stop offset="0.2630" stop-color="#cdd2eb"/><stop offset="0.2826" stop-color="#788cc3"/><stop offset="0.3033" stop-color="#264496"/><stop offset="0.3229" stop-color="#1e2a62"/><stop offset="0.3392" stop-color="#19142b"/><stop offset="0.6709" stop-color="#19142b"/><stop offset="0.6835" stop-color="#1e2a62"/><stop offset="0.7835" stop-color="#264496"/><stop offset="0.8228" stop-color="#788cc3"/><stop offset="0.8449" stop-color="#cdd2eb"/><stop offset="0.8734" stop-color="#ffffff"/><stop offset="0.9013" stop-color="#ffffff"/><stop offset="0.9241" stop-color="#fbe2e4"/><stop offset="0.9823" stop-color="#f5c8cc"/><stop offset="1.0000" stop-color="#eeacb4"/></linearGradient><linearGradient id="h29" gradientUnits="userSpaceOnUse" x1="0" y1="290.0" x2="0" y2="685.0"><stop offset="0.0000" stop-color="#e41e24"/><stop offset="0.1013" stop-color="#e41e24"/><stop offset="0.1291" stop-color="#e83e42"/><stop offset="0.1778" stop-color="#ee7376"/><stop offset="0.1987" stop-color="#f2989b"/><stop offset="0.2196" stop-color="#f8cdcf"/><stop offset="0.2405" stop-color="#ffffff"/><stop offset="0.2777" stop-color="#cdd2eb"/><stop offset="0.3001" stop-color="#788cc3"/><stop offset="0.3236" stop-color="#264496"/><stop offset="0.3459" stop-color="#1e2a62"/><stop offset="0.3646" stop-color="#19142b"/><stop offset="0.7089" stop-color="#19142b"/><stop offset="0.7215" stop-color="#1e2a62"/><stop offset="0.8101" stop-color="#264496"/><stop offset="0.8430" stop-color="#788cc3"/><stop offset="0.8608" stop-color="#cdd2eb"/><stop offset="0.8835" stop-color="#ffffff"/><stop offset="0.9114" stop-color="#ffffff"/><stop offset="0.9342" stop-color="#fbe2e4"/><stop offset="0.9924" stop-color="#f5c8cc"/><stop offset="1.0000" stop-color="#eeacb4"/></linearGradient><linearGradient id="h30" gradientUnits="userSpaceOnUse" x1="0" y1="290.0" x2="0" y2="685.0"><stop offset="0.0000" stop-color="#e41e24"/><stop offset="0.1013" stop-color="#e41e24"/><stop offset="0.1316" stop-color="#e83e42"/><stop offset="0.1848" stop-color="#ee7376"/><stop offset="0.2076" stop-color="#f2989b"/><stop offset="0.2304" stop-color="#f8cdcf"/><stop offset="0.2532" stop-color="#ffffff"/><stop offset="0.2896" stop-color="#cdd2eb"/><stop offset="0.3115" stop-color="#788cc3"/><stop offset="0.3346" stop-color="#264496"/><stop offset="0.3565" stop-color="#1e2a62"/><stop offset="0.3747" stop-color="#19142b"/><stop offset="0.7443" stop-color="#19142b"/><stop offset="0.7570" stop-color="#1e2a62"/><stop offset="0.8096" stop-color="#264496"/><stop offset="0.8476" stop-color="#788cc3"/><stop offset="0.8689" stop-color="#cdd2eb"/><stop offset="0.8962" stop-color="#ffffff"/><stop offset="0.9241" stop-color="#ffffff"/><stop offset="0.9468" stop-color="#fbe2e4"/><stop offset="1.0000" stop-color="#eeacb4"/></linearGradient><linearGradient id="h31" gradientUnits="userSpaceOnUse" x1="0" y1="290.0" x2="0" y2="685.0"><stop offset="0.0000" stop-color="#e41e24"/><stop offset="0.1190" stop-color="#e41e24"/><stop offset="0.1468" stop-color="#e83e42"/><stop offset="0.1956" stop-color="#ee7376"/><stop offset="0.2165" stop-color="#f2989b"/><stop offset="0.2373" stop-color="#f8cdcf"/><stop offset="0.2582" stop-color="#ffffff"/><stop offset="0.2932" stop-color="#cdd2eb"/><stop offset="0.3141" stop-color="#788cc3"/><stop offset="0.3363" stop-color="#264496"/><stop offset="0.3572" stop-color="#1e2a62"/><stop offset="0.3747" stop-color="#19142b"/><stop offset="0.7544" stop-color="#19142b"/><stop offset="0.7671" stop-color="#1e2a62"/><stop offset="0.8205" stop-color="#264496"/><stop offset="0.8572" stop-color="#788cc3"/><stop offset="0.8776" stop-color="#cdd2eb"/><stop offset="0.9038" stop-color="#ffffff"/><stop offset="0.9316" stop-color="#ffffff"/><stop offset="0.9544" stop-color="#fbe2e4"/><stop offset="1.0000" stop-color="#eeacb4"/></linearGradient><linearGradient id="h32" gradientUnits="userSpaceOnUse" x1="0" y1="290.0" x2="0" y2="685.0"><stop offset="0.0000" stop-color="#e41e24"/><stop offset="0.1190" stop-color="#e41e24"/><stop offset="0.1494" stop-color="#e83e42"/><stop offset="0.2025" stop-color="#ee7376"/><stop offset="0.2253" stop-color="#f2989b"/><stop offset="0.2481" stop-color="#f8cdcf"/><stop offset="0.2709" stop-color="#ffffff"/><stop offset="0.3043" stop-color="#cdd2eb"/><stop offset="0.3244" stop-color="#788cc3"/><stop offset="0.3455" stop-color="#264496"/><stop offset="0.3656" stop-color="#1e2a62"/><stop offset="0.3823" stop-color="#19142b"/><stop offset="0.7671" stop-color="#19142b"/><stop offset="0.7797" stop-color="#1e2a62"/><stop offset="0.8190" stop-color="#264496"/><stop offset="0.8582" stop-color="#788cc3"/><stop offset="0.8804" stop-color="#cdd2eb"/><stop offset="0.9089" stop-color="#ffffff"/><stop offset="0.9367" stop-color="#ffffff"/><stop offset="0.9595" stop-color="#fbe2e4"/><stop offset="1.0000" stop-color="#eeacb4"/></linearGradient><linearGradient id="h33" gradientUnits="userSpaceOnUse" x1="0" y1="290.0" x2="0" y2="685.0"><stop offset="0.0000" stop-color="#e41e24"/><stop offset="0.1316" stop-color="#e41e24"/><stop offset="0.1620" stop-color="#e83e42"/><stop offset="0.2152" stop-color="#ee7376"/><stop offset="0.2380" stop-color="#f2989b"/><stop offset="0.2608" stop-color="#f8cdcf"/><stop offset="0.2835" stop-color="#ffffff"/><stop offset="0.3147" stop-color="#cdd2eb"/><stop offset="0.3334" stop-color="#788cc3"/><stop offset="0.3531" stop-color="#264496"/><stop offset="0.3718" stop-color="#1e2a62"/><stop offset="0.3873" stop-color="#19142b"/><stop offset="0.7747" stop-color="#19142b"/><stop offset="0.7873" stop-color="#1e2a62"/><stop offset="0.8127" stop-color="#264496"/><stop offset="0.8456" stop-color="#788cc3"/><stop offset="0.8633" stop-color="#cdd2eb"/><stop offset="0.8861" stop-color="#ffffff"/><stop offset="0.9139" stop-color="#ffffff"/><stop offset="0.9367" stop-color="#fbe2e4"/><stop offset="0.9949" stop-color="#f5c8cc"/><stop offset="1.0000" stop-color="#eeacb4"/></linearGradient><linearGradient id="h34" gradientUnits="userSpaceOnUse" x1="0" y1="290.0" x2="0" y2="685.0"><stop offset="0.0000" stop-color="#e41e24"/><stop offset="0.1443" stop-color="#e41e24"/><stop offset="0.1747" stop-color="#e83e42"/><stop offset="0.2278" stop-color="#ee7376"/><stop offset="0.2506" stop-color="#f2989b"/><stop offset="0.2734" stop-color="#f8cdcf"/><stop offset="0.2962" stop-color="#ffffff"/><stop offset="0.3266" stop-color="#cdd2eb"/><stop offset="0.3448" stop-color="#788cc3"/><stop offset="0.3641" stop-color="#264496"/><stop offset="0.3823" stop-color="#1e2a62"/><stop offset="0.3975" stop-color="#19142b"/><stop offset="0.7671" stop-color="#19142b"/><stop offset="0.7797" stop-color="#1e2a62"/><stop offset="0.8190" stop-color="#264496"/><stop offset="0.8582" stop-color="#788cc3"/><stop offset="0.8804" stop-color="#cdd2eb"/><stop offset="0.9089" stop-color="#ffffff"/><stop offset="0.9367" stop-color="#ffffff"/><stop offset="0.9595" stop-color="#fbe2e4"/><stop offset="1.0000" stop-color="#eeacb4"/></linearGradient><linearGradient id="h35" gradientUnits="userSpaceOnUse" x1="0" y1="290.0" x2="0" y2="685.0"><stop offset="0.0000" stop-color="#e41e24"/><stop offset="0.1367" stop-color="#e41e24"/><stop offset="0.1696" stop-color="#e83e42"/><stop offset="0.2272" stop-color="#ee7376"/><stop offset="0.2519" stop-color="#f2989b"/><stop offset="0.2766" stop-color="#f8cdcf"/><stop offset="0.3013" stop-color="#ffffff"/><stop offset="0.3294" stop-color="#cdd2eb"/><stop offset="0.3462" stop-color="#788cc3"/><stop offset="0.3640" stop-color="#264496"/><stop offset="0.3809" stop-color="#1e2a62"/><stop offset="0.3949" stop-color="#19142b"/><stop offset="0.7671" stop-color="#19142b"/><stop offset="0.7797" stop-color="#1e2a62"/><stop offset="0.8494" stop-color="#264496"/><stop offset="0.8759" stop-color="#788cc3"/><stop offset="0.8892" stop-color="#cdd2eb"/><stop offset="0.9063" stop-color="#ffffff"/><stop offset="0.9342" stop-color="#ffffff"/><stop offset="0.9570" stop-color="#fbe2e4"/><stop offset="1.0000" stop-color="#eeacb4"/></linearGradient><linearGradient id="h36" gradientUnits="userSpaceOnUse" x1="0" y1="290.0" x2="0" y2="685.0"><stop offset="0.0000" stop-color="#e41e24"/><stop offset="0.1367" stop-color="#e41e24"/><stop offset="0.1696" stop-color="#e83e42"/><stop offset="0.2272" stop-color="#ee7376"/><stop offset="0.2519" stop-color="#f2989b"/><stop offset="0.2766" stop-color="#f8cdcf"/><stop offset="0.3013" stop-color="#ffffff"/><stop offset="0.3301" stop-color="#cdd2eb"/><stop offset="0.3474" stop-color="#788cc3"/><stop offset="0.3657" stop-color="#264496"/><stop offset="0.3830" stop-color="#1e2a62"/><stop offset="0.3975" stop-color="#19142b"/><stop offset="0.7418" stop-color="#19142b"/><stop offset="0.7468" stop-color="#264496"/><stop offset="0.7595" stop-color="#1e2a62"/><stop offset="0.7722" stop-color="#264496"/><stop offset="0.7848" stop-color="#1e2a62"/><stop offset="0.8000" stop-color="#264496"/><stop offset="0.8152" stop-color="#788cc3"/><stop offset="0.8253" stop-color="#264496"/><stop offset="0.8405" stop-color="#788cc3"/><stop offset="0.8608" stop-color="#cdd2eb"/><stop offset="0.9114" stop-color="#ffffff"/><stop offset="0.9316" stop-color="#ffffff"/><stop offset="0.9468" stop-color="#fbe2e4"/><stop offset="0.9949" stop-color="#f5c8cc"/><stop offset="1.0000" stop-color="#eeacb4"/></linearGradient><linearGradient id="h37" gradientUnits="userSpaceOnUse" x1="0" y1="290.0" x2="0" y2="685.0"><stop offset="0.0000" stop-color="#e41e24"/><stop offset="0.1494" stop-color="#e41e24"/><stop offset="0.1823" stop-color="#e83e42"/><stop offset="0.2399" stop-color="#ee7376"/><stop offset="0.2646" stop-color="#f2989b"/><stop offset="0.2892" stop-color="#f8cdcf"/><stop offset="0.3139" stop-color="#ffffff"/><stop offset="0.3405" stop-color="#cdd2eb"/><stop offset="0.3565" stop-color="#788cc3"/><stop offset="0.3733" stop-color="#264496"/><stop offset="0.3892" stop-color="#1e2a62"/><stop offset="0.4025" stop-color="#19142b"/><stop offset="0.7797" stop-color="#19142b"/><stop offset="0.7924" stop-color="#1e2a62"/><stop offset="0.8620" stop-color="#264496"/><stop offset="0.8886" stop-color="#788cc3"/><stop offset="0.9019" stop-color="#cdd2eb"/><stop offset="0.9190" stop-color="#ffffff"/><stop offset="0.9468" stop-color="#ffffff"/><stop offset="0.9696" stop-color="#fbe2e4"/><stop offset="1.0000" stop-color="#eeacb4"/></linearGradient><linearGradient id="h38" gradientUnits="userSpaceOnUse" x1="0" y1="290.0" x2="0" y2="685.0"><stop offset="0.0000" stop-color="#e41e24"/><stop offset="0.1570" stop-color="#e41e24"/><stop offset="0.1899" stop-color="#e83e42"/><stop offset="0.2475" stop-color="#ee7376"/><stop offset="0.2722" stop-color="#f2989b"/><stop offset="0.2968" stop-color="#f8cdcf"/><stop offset="0.3215" stop-color="#ffffff"/><stop offset="0.3473" stop-color="#cdd2eb"/><stop offset="0.3628" stop-color="#788cc3"/><stop offset="0.3792" stop-color="#264496"/><stop offset="0.3947" stop-color="#1e2a62"/><stop offset="0.4076" stop-color="#19142b"/><stop offset="0.7772" stop-color="#19142b"/><stop offset="0.7899" stop-color="#1e2a62"/><stop offset="0.8656" stop-color="#264496"/><stop offset="0.8947" stop-color="#788cc3"/><stop offset="0.9097" stop-color="#cdd2eb"/><stop offset="0.9291" stop-color="#ffffff"/><stop offset="0.9570" stop-color="#ffffff"/><stop offset="0.9797" stop-color="#fbe2e4"/><stop offset="1.0000" stop-color="#eeacb4"/></linearGradient><linearGradient id="h39" gradientUnits="userSpaceOnUse" x1="0" y1="290.0" x2="0" y2="685.0"><stop offset="0.0000" stop-color="#ce1b26"/><stop offset="0.1747" stop-color="#e41e24"/><stop offset="0.2076" stop-color="#e83e42"/><stop offset="0.2652" stop-color="#ee7376"/><stop offset="0.2899" stop-color="#f2989b"/><stop offset="0.3146" stop-color="#f8cdcf"/><stop offset="0.3392" stop-color="#ffffff"/><stop offset="0.3620" stop-color="#cdd2eb"/><stop offset="0.3757" stop-color="#788cc3"/><stop offset="0.3901" stop-color="#264496"/><stop offset="0.4038" stop-color="#1e2a62"/><stop offset="0.4152" stop-color="#19142b"/><stop offset="0.7215" stop-color="#19142b"/><stop offset="0.7342" stop-color="#1e2a62"/><stop offset="0.8304" stop-color="#264496"/><stop offset="0.8759" stop-color="#788cc3"/><stop offset="0.9025" stop-color="#cdd2eb"/><stop offset="0.9367" stop-color="#ffffff"/><stop offset="0.9646" stop-color="#ffffff"/><stop offset="0.9873" stop-color="#fbe2e4"/><stop offset="1.0000" stop-color="#eeacb4"/></linearGradient><linearGradient id="h40" gradientUnits="userSpaceOnUse" x1="0" y1="290.0" x2="0" y2="685.0"><stop offset="0.0000" stop-color="#ce1b26"/><stop offset="0.1747" stop-color="#e41e24"/><stop offset="0.2051" stop-color="#e83e42"/><stop offset="0.2582" stop-color="#ee7376"/><stop offset="0.2810" stop-color="#f2989b"/><stop offset="0.3038" stop-color="#f8cdcf"/><stop offset="0.3266" stop-color="#ffffff"/><stop offset="0.3501" stop-color="#cdd2eb"/><stop offset="0.3643" stop-color="#788cc3"/><stop offset="0.3792" stop-color="#264496"/><stop offset="0.3933" stop-color="#1e2a62"/><stop offset="0.4051" stop-color="#19142b"/><stop offset="0.7468" stop-color="#19142b"/><stop offset="0.7595" stop-color="#1e2a62"/><stop offset="0.8501" stop-color="#264496"/><stop offset="0.8881" stop-color="#788cc3"/><stop offset="0.9094" stop-color="#cdd2eb"/><stop offset="0.9367" stop-color="#ffffff"/><stop offset="0.9646" stop-color="#ffffff"/><stop offset="0.9873" stop-color="#fbe2e4"/><stop offset="1.0000" stop-color="#eeacb4"/></linearGradient></defs><rect x="101.50" y="290.0" width="11.47" height="395.0" fill="url(#h1)"/><rect x="111.78" y="290.0" width="11.47" height="395.0" fill="url(#h2)"/><rect x="122.05" y="290.0" width="11.47" height="395.0" fill="url(#h3)"/><rect x="132.32" y="290.0" width="11.47" height="395.0" fill="url(#h4)"/><rect x="142.60" y="290.0" width="11.47" height="395.0" fill="url(#h5)"/><rect x="152.88" y="290.0" width="11.47" height="395.0" fill="url(#h6)"/><rect x="163.15" y="290.0" width="11.47" height="395.0" fill="url(#h7)"/><rect x="173.43" y="290.0" width="11.47" height="395.0" fill="url(#h8)"/><rect x="183.70" y="290.0" width="11.47" height="395.0" fill="url(#h9)"/><rect x="193.98" y="290.0" width="11.47" height="395.0" fill="url(#h10)"/><rect x="204.25" y="290.0" width="11.47" height="395.0" fill="url(#h11)"/><rect x="214.53" y="290.0" width="11.47" height="395.0" fill="url(#h12)"/><rect x="224.80" y="290.0" width="11.47" height="395.0" fill="url(#h13)"/><rect x="235.08" y="290.0" width="11.47" height="395.0" fill="url(#h14)"/><rect x="245.35" y="290.0" width="11.47" height="395.0" fill="url(#h15)"/><rect x="255.62" y="290.0" width="11.47" height="395.0" fill="url(#h16)"/><rect x="265.90" y="290.0" width="11.47" height="395.0" fill="url(#h17)"/><rect x="276.18" y="290.0" width="11.47" height="395.0" fill="url(#h18)"/><rect x="286.45" y="290.0" width="11.47" height="395.0" fill="url(#h19)"/><rect x="296.73" y="290.0" width="11.47" height="395.0" fill="url(#h20)"/><rect x="307.00" y="290.0" width="11.47" height="395.0" fill="url(#h21)"/><rect x="317.27" y="290.0" width="11.47" height="395.0" fill="url(#h22)"/><rect x="327.55" y="290.0" width="11.47" height="395.0" fill="url(#h23)"/><rect x="337.83" y="290.0" width="11.47" height="395.0" fill="url(#h24)"/><rect x="348.10" y="290.0" width="11.47" height="395.0" fill="url(#h25)"/><rect x="358.38" y="290.0" width="11.47" height="395.0" fill="url(#h26)"/><rect x="368.65" y="290.0" width="11.47" height="395.0" fill="url(#h27)"/><rect x="378.93" y="290.0" width="11.47" height="395.0" fill="url(#h28)"/><rect x="389.20" y="290.0" width="11.47" height="395.0" fill="url(#h29)"/><rect x="399.48" y="290.0" width="11.47" height="395.0" fill="url(#h30)"/><rect x="409.75" y="290.0" width="11.47" height="395.0" fill="url(#h31)"/><rect x="420.03" y="290.0" width="11.47" height="395.0" fill="url(#h32)"/><rect x="430.30" y="290.0" width="11.47" height="395.0" fill="url(#h33)"/><rect x="440.57" y="290.0" width="11.47" height="395.0" fill="url(#h34)"/><rect x="450.85" y="290.0" width="11.47" height="395.0" fill="url(#h35)"/><rect x="461.12" y="290.0" width="11.47" height="395.0" fill="url(#h36)"/><rect x="471.40" y="290.0" width="11.47" height="395.0" fill="url(#h37)"/><rect x="481.68" y="290.0" width="11.47" height="395.0" fill="url(#h38)"/><rect x="491.95" y="290.0" width="11.47" height="395.0" fill="url(#h39)"/><rect x="502.23" y="290.0" width="10.28" height="395.0" fill="url(#h40)"/><rect x="101.4" y="290.2" width="411" height="394.8" fill="none" stroke="#231815" stroke-width="1.3"/><line x1="106.5" y1="290.2" x2="106.5" y2="296.6" stroke="#231815" stroke-width="1.3"/><line x1="145.5" y1="290.2" x2="145.5" y2="296.6" stroke="#231815" stroke-width="1.3"/><line x1="199.3" y1="290.2" x2="199.3" y2="296.6" stroke="#231815" stroke-width="1.3"/><line x1="249.5" y1="290.2" x2="249.5" y2="296.6" stroke="#231815" stroke-width="1.3"/><line x1="301.5" y1="290.2" x2="301.5" y2="296.6" stroke="#231815" stroke-width="1.3"/><line x1="353.3" y1="290.2" x2="353.3" y2="296.6" stroke="#231815" stroke-width="1.3"/><line x1="405" y1="290.2" x2="405" y2="296.6" stroke="#231815" stroke-width="1.3"/><line x1="456.2" y1="290.2" x2="456.2" y2="296.6" stroke="#231815" stroke-width="1.3"/><line x1="507.5" y1="290.2" x2="507.5" y2="296.6" stroke="#231815" stroke-width="1.3"/><line x1="106.50" y1="685" x2="106.50" y2="678" stroke="#231815" stroke-width="1.3"/><line x1="146.55" y1="685" x2="146.55" y2="681" stroke="#231815" stroke-width="1.3"/><line x1="186.60" y1="685" x2="186.60" y2="678" stroke="#231815" stroke-width="1.3"/><line x1="226.65" y1="685" x2="226.65" y2="681" stroke="#231815" stroke-width="1.3"/><line x1="266.70" y1="685" x2="266.70" y2="678" stroke="#231815" stroke-width="1.3"/><line x1="306.75" y1="685" x2="306.75" y2="681" stroke="#231815" stroke-width="1.3"/><line x1="346.80" y1="685" x2="346.80" y2="678" stroke="#231815" stroke-width="1.3"/><line x1="386.85" y1="685" x2="386.85" y2="681" stroke="#231815" stroke-width="1.3"/><line x1="426.90" y1="685" x2="426.90" y2="678" stroke="#231815" stroke-width="1.3"/><line x1="466.95" y1="685" x2="466.95" y2="681" stroke="#231815" stroke-width="1.3"/><line x1="507.00" y1="685" x2="507.00" y2="678" stroke="#231815" stroke-width="1.3"/><line x1="101.4" y1="641.00" x2="108.4" y2="641.00" stroke="#231815" stroke-width="1.3"/><line x1="101.4" y1="597.00" x2="105.4" y2="597.00" stroke="#231815" stroke-width="1.3"/><line x1="101.4" y1="553.00" x2="108.4" y2="553.00" stroke="#231815" stroke-width="1.3"/><line x1="101.4" y1="509.00" x2="105.4" y2="509.00" stroke="#231815" stroke-width="1.3"/><line x1="101.4" y1="465.00" x2="108.4" y2="465.00" stroke="#231815" stroke-width="1.3"/><line x1="101.4" y1="421.00" x2="105.4" y2="421.00" stroke="#231815" stroke-width="1.3"/><line x1="101.4" y1="377.00" x2="108.4" y2="377.00" stroke="#231815" stroke-width="1.3"/><line x1="101.4" y1="333.00" x2="105.4" y2="333.00" stroke="#231815" stroke-width="1.3"/><text transform="translate(96.96,283.80) scale(1.0158,1)" font-size="29.39" fill="#231815" stroke="#ffffff" stroke-width="0.5">1</text><text transform="translate(137.66,283.51) scale(1.1055,1)" font-size="29.17" fill="#231815" stroke="#ffffff" stroke-width="0.5">5</text><text transform="translate(182.60,283.51) scale(1.0657,1)" font-size="28.74" fill="#231815" stroke="#ffffff" stroke-width="0.5">10</text><text transform="translate(235.05,283.51) scale(1.0381,1)" font-size="28.96" fill="#231815" stroke="#ffffff" stroke-width="0.5">15</text><text transform="translate(285.60,283.51) scale(1.0837,1)" font-size="28.74" fill="#231815" stroke="#ffffff" stroke-width="0.5">20</text><text transform="translate(336.45,283.51) scale(1.0342,1)" font-size="28.96" fill="#231815" stroke="#ffffff" stroke-width="0.5">25</text><text transform="translate(388.33,283.51) scale(1.0571,1)" font-size="28.74" fill="#231815" stroke="#ffffff" stroke-width="0.5">30</text><text transform="translate(437.12,283.51) scale(1.0568,1)" font-size="28.96" fill="#231815" stroke="#ffffff" stroke-width="0.5">35</text><text transform="translate(487.11,283.51) scale(1.0290,1)" font-size="28.74" fill="#231815" stroke="#ffffff" stroke-width="0.5">40</text><text transform="translate(77.58,304.00) scale(1.2375,1)" font-size="29.09" fill="#231815" stroke="#ffffff" stroke-width="0.5">2</text><text transform="translate(77.13,388.80) scale(1.1620,1)" font-size="29.09" fill="#231815" stroke="#ffffff" stroke-width="0.5">1</text><text transform="translate(76.95,474.00) scale(1.2034,1)" font-size="30.07" fill="#231815" stroke="#ffffff" stroke-width="0.5">0</text><rect x="55.2" y="549.6" width="19.7" height="1.6" fill="#231815"/><text transform="translate(78.00,558.00) scale(1.1329,1)" font-size="29.09" fill="#231815" stroke="#ffffff" stroke-width="0.5">1</text><rect x="55.2" y="643" width="19.4" height="1.6" fill="#231815"/><text transform="translate(78.28,651.00) scale(1.1976,1)" font-size="28.18" fill="#231815" stroke="#ffffff" stroke-width="0.5">2</text><text transform="translate(99.95,711.72) scale(1.2857,1)" font-size="28.15" fill="#231815" stroke="#ffffff" stroke-width="0.5">0</text><text transform="translate(177.89,711.72) scale(1.1811,1)" font-size="28.36" fill="#231815" stroke="#ffffff" stroke-width="0.5">3</text><text transform="translate(259.15,711.72) scale(1.1891,1)" font-size="28.36" fill="#231815" stroke="#ffffff" stroke-width="0.5">6</text><text transform="translate(337.83,711.72) scale(1.1399,1)" font-size="28.36" fill="#231815" stroke="#ffffff" stroke-width="0.5">9</text><text transform="translate(407.09,712.00) scale(1.1875,1)" font-size="28.79" fill="#231815" stroke="#ffffff" stroke-width="0.5">12</text><text transform="translate(484.54,711.72) scale(1.1848,1)" font-size="28.36" fill="#231815" stroke="#ffffff" stroke-width="0.5">15</text><text transform="translate(210.51,742.61) scale(1.1666,1)" font-size="31.10" fill="#231815" stroke="#ffffff" stroke-width="0.5">Distance (nm)</text><text transform="rotate(-90) translate(-519.88,30.10) scale(1.1401,1)" font-size="31.65" fill="#231815" stroke="#ffffff" stroke-width="0.5">Bias (V)</text><text transform="translate(8.13,316.53) scale(1.0739,1)" font-size="32.42" fill="#231815" stroke="#ffffff" stroke-width="0.5">(b)</text><text transform="translate(16.57,602.10) scale(1.1715,1)" font-size="31.30" fill="#231815" font-style="italic" stroke="#ffffff" stroke-width="0.5">K</text><text transform="translate(42.60,605.81) scale(1.1280,1)" font-size="19.15" fill="#231815" stroke="#ffffff" stroke-width="0.5">v</text><text transform="translate(31.35,635.40) scale(1.1325,1)" font-size="30.69" fill="#231815" font-style="italic" stroke="#ffffff" stroke-width="0.5">Γ</text><rect x="65.4" y="592.2" width="17" height="2.4" fill="#231815"/><path d="M81.8,587.8 L93.6,593.4 L81.8,599.0 Z" fill="#231815"/><rect x="65.4" y="624.0" width="17" height="2.4" fill="#231815"/><path d="M81.8,619.6 L93.6,625.2 L81.8,630.8 Z" fill="#231815"/><text transform="translate(194.01,488.54) scale(1.1377,1)" font-size="30.59" fill="#ffffff" stroke="#1b1830" stroke-width="0.5">0.45 eV</text><rect x="313.9" y="459" width="4.2" height="32" fill="#ffffff"/><path d="M309,461 L316,446.7 L323,461 Z" fill="#ffffff"/><path d="M309,489 L316,503.1 L323,489 Z" fill="#ffffff"/><path d="M624.2,0 L624.2,671 L1005.2,671 L1005.2,0" fill="none" stroke="#231815" stroke-width="3.2"/><rect x="622.6" y="0" width="384.2" height="2.9" fill="#231815"/><line x1="624" y1="13.30" x2="635" y2="13.30" stroke="#231815" stroke-width="3"/><line x1="624" y1="72.10" x2="628.5" y2="72.10" stroke="#231815" stroke-width="3"/><line x1="624" y1="130.90" x2="635" y2="130.90" stroke="#231815" stroke-width="3"/><line x1="624" y1="189.70" x2="628.5" y2="189.70" stroke="#231815" stroke-width="3"/><line x1="624" y1="248.50" x2="635" y2="248.50" stroke="#231815" stroke-width="3"/><line x1="624" y1="307.30" x2="628.5" y2="307.30" stroke="#231815" stroke-width="3"/><line x1="624" y1="366.10" x2="635" y2="366.10" stroke="#231815" stroke-width="3"/><line x1="624" y1="424.90" x2="628.5" y2="424.90" stroke="#231815" stroke-width="3"/><line x1="624" y1="483.70" x2="635" y2="483.70" stroke="#231815" stroke-width="3"/><line x1="624" y1="542.50" x2="628.5" y2="542.50" stroke="#231815" stroke-width="3"/><line x1="624" y1="601.30" x2="635" y2="601.30" stroke="#231815" stroke-width="3"/><line x1="624" y1="660.10" x2="628.5" y2="660.10" stroke="#231815" stroke-width="3"/><line x1="658.85" y1="671" x2="658.85" y2="666.5" stroke="#231815" stroke-width="3"/><line x1="693.50" y1="671" x2="693.50" y2="661" stroke="#231815" stroke-width="3"/><line x1="728.15" y1="671" x2="728.15" y2="666.5" stroke="#231815" stroke-width="3"/><line x1="762.80" y1="671" x2="762.80" y2="661" stroke="#231815" stroke-width="3"/><line x1="797.45" y1="671" x2="797.45" y2="666.5" stroke="#231815" stroke-width="3"/><line x1="832.10" y1="671" x2="832.10" y2="661" stroke="#231815" stroke-width="3"/><line x1="866.75" y1="671" x2="866.75" y2="666.5" stroke="#231815" stroke-width="3"/><line x1="901.40" y1="671" x2="901.40" y2="661" stroke="#231815" stroke-width="3"/><line x1="936.05" y1="671" x2="936.05" y2="666.5" stroke="#231815" stroke-width="3"/><line x1="970.70" y1="671" x2="970.70" y2="661" stroke="#231815" stroke-width="3"/><rect x="610.4" y="691.2" width="19.4" height="1.6" fill="#231815"/><text transform="translate(632.75,701.21) scale(1.2087,1)" font-size="28.51" fill="#231815" stroke="#ffffff" stroke-width="0.5">3</text><rect x="679.8" y="691.2" width="19.4" height="1.6" fill="#231815"/><text transform="translate(702.65,701.50) scale(1.0366,1)" font-size="28.94" fill="#231815" stroke="#ffffff" stroke-width="0.5">2</text><rect x="744.9" y="691.2" width="19.4" height="1.6" fill="#231815"/><text transform="translate(766.97,701.50) scale(1.1250,1)" font-size="29.55" fill="#231815" stroke="#ffffff" stroke-width="0.5">1</text><text transform="translate(823.99,701.21) scale(1.1374,1)" font-size="28.89" fill="#231815" stroke="#ffffff" stroke-width="0.5">0</text><text transform="translate(892.67,701.50) scale(1.1250,1)" font-size="29.55" fill="#231815" stroke="#ffffff" stroke-width="0.5">1</text><text transform="translate(962.54,701.50) scale(1.1230,1)" font-size="28.94" fill="#231815" stroke="#ffffff" stroke-width="0.5">2</text><text transform="translate(750.73,736.15) scale(1.1182,1)" font-size="31.87" fill="#231815" stroke="#ffffff" stroke-width="0.5">Bias (V)</text><text transform="translate(558.38,35.39) scale(1.2263,1)" font-size="29.34" fill="#231815" stroke="#ffffff" stroke-width="0.5">(c)</text><text transform="rotate(-90) translate(-420.45,592.24) scale(1.1216,1)" font-size="29.12" fill="#231815" stroke="#ffffff" stroke-width="0.5">log</text><text transform="rotate(-90) translate(-376.95,592.30) scale(1.0021,1)" font-size="32.09" fill="#231815" stroke="#ffffff" stroke-width="0.5">(</text><text transform="rotate(-90) translate(-366.06,592.21) scale(1.3378,1)" font-size="29.08" fill="#231815" stroke="#ffffff" stroke-width="0.5">d</text><text transform="rotate(-90) translate(-344.93,592.20) scale(1.0895,1)" font-size="30.84" fill="#231815" font-style="italic" stroke="#ffffff" stroke-width="0.5">I</text><text transform="rotate(-90) translate(-330.30,598.56) scale(1.0324,1)" font-size="44.03" fill="#231815" stroke="#ffffff" stroke-width="0.5">/</text><text transform="rotate(-90) translate(-315.58,592.51) scale(1.1621,1)" font-size="28.94" fill="#231815" stroke="#ffffff" stroke-width="0.5">d</text><text transform="rotate(-90) translate(-296.12,592.33) scale(0.9693,1)" font-size="31.34" fill="#231815" font-style="italic" stroke="#ffffff" stroke-width="0.5">V</text><text transform="rotate(-90) translate(-276.15,592.17) scale(0.8962,1)" font-size="31.76" fill="#231815" stroke="#ffffff" stroke-width="0.5">)</text><text transform="translate(636.89,43.30) scale(1.3207,1)" font-size="27.73" fill="#5e5e5e" stroke="#ffffff" stroke-width="0.5">1</text><text transform="translate(638.20,91.42) scale(1.2875,1)" font-size="28.36" fill="#5e5e5e" stroke="#ffffff" stroke-width="0.5">9</text><text transform="translate(628.79,136.44) scale(1.2978,1)" font-size="26.42" fill="#5e5e5e" stroke="#ffffff" stroke-width="0.5">13</text><text transform="translate(628.85,179.01) scale(1.1711,1)" font-size="28.59" fill="#5e5e5e" stroke="#ffffff" stroke-width="0.5">18</text><text transform="translate(628.85,219.73) scale(1.2260,1)" font-size="27.31" fill="#3a76c2" stroke="#ffffff" stroke-width="0.5">19</text><text transform="translate(630.28,267.30) scale(1.2063,1)" font-size="26.21" fill="#3a76c2" stroke="#ffffff" stroke-width="0.5">21</text><text transform="translate(630.29,314.00) scale(1.1996,1)" font-size="26.21" fill="#3a76c2" stroke="#ffffff" stroke-width="0.5">22</text><text transform="translate(630.32,369.09) scale(1.4335,1)" font-size="21.34" fill="#e0475f" stroke="#ffffff" stroke-width="0.5">26</text><text transform="translate(630.32,414.00) scale(1.1672,1)" font-size="26.21" fill="#e0475f" stroke="#ffffff" stroke-width="0.5">27</text><text transform="translate(630.31,458.03) scale(1.1324,1)" font-size="27.31" fill="#e0475f" stroke="#ffffff" stroke-width="0.5">29</text><text transform="translate(628.50,503.03) scale(1.2204,1)" font-size="27.31" fill="#e0475f" stroke="#ffffff" stroke-width="0.5">32</text><text transform="translate(628.56,549.73) scale(1.1685,1)" font-size="27.31" fill="#e0475f" stroke="#ffffff" stroke-width="0.5">34</text><text transform="translate(629.36,599.72) scale(1.1338,1)" font-size="28.15" fill="#e0475f" stroke="#ffffff" stroke-width="0.5">40</text><text transform="rotate(-90) translate(-134.60,996.93) scale(1.1107,1)" font-size="31.11" fill="#231815" stroke="#ffffff" stroke-width="0.5">WSe</text><text transform="rotate(-90) translate(-69.08,1001.00) scale(1.1478,1)" font-size="20.91" fill="#231815" stroke="#ffffff" stroke-width="0.5">2</text><text transform="rotate(-90) translate(-367.86,996.21) scale(1.1562,1)" font-size="28.67" fill="#3a76c2" stroke="#ffffff" stroke-width="0.5">Interface states</text><g transform="translate(976,547.8) rotate(-90) scale(1.019) translate(-360.2,-46.2)" fill="none" stroke="#e0475f" stroke-linecap="round" stroke-linejoin="round"><path d="M360.20,71.70 C360.47,70.83 361.27,68.43 361.80,66.50 C362.33,64.57 362.87,62.15 363.40,60.10 C363.93,58.05 364.40,55.93 365.00,54.20 C365.60,52.47 366.25,50.88 367.00,49.70 C367.75,48.52 368.63,47.65 369.50,47.10 C370.37,46.55 371.37,46.40 372.20,46.40 C373.03,46.40 373.90,46.62 374.50,47.10 C375.10,47.58 375.57,48.57 375.80,49.30 C376.03,50.03 376.07,50.78 375.90,51.50 C375.73,52.22 375.28,53.07 374.80,53.60 C374.32,54.13 373.73,54.47 373.00,54.70 C372.27,54.93 371.23,54.97 370.40,55.00 C369.57,55.03 368.40,54.92 368.00,54.90" stroke-width="1.2"/><path d="M372.60,55.00 C372.90,55.27 373.98,55.90 374.40,56.60 C374.82,57.30 375.10,58.23 375.10,59.20 C375.10,60.17 374.82,61.43 374.40,62.40 C373.98,63.37 373.33,64.33 372.60,65.00 C371.87,65.67 370.93,66.13 370.00,66.40 C369.07,66.67 367.87,66.73 367.00,66.60 C366.13,66.47 365.42,66.05 364.80,65.60 C364.18,65.15 363.55,64.18 363.30,63.90" stroke-width="1.5"/></g><path transform="rotate(-90,981,525.8)" d="M981.00,522.20 L981.00,529.40 M977.88,524.00 L984.12,527.60 M977.88,527.60 L984.12,524.00" stroke="#e0475f" stroke-width="1.0" stroke-linecap="round" fill="none"/><rect x="988" y="512.2" width="2" height="7.2" fill="#e0475f"/><text transform="rotate(-90) translate(-511.81,997.30) scale(1.0194,1)" font-size="30.99" fill="#e0475f" stroke="#ffffff" stroke-width="0.5">In</text><text transform="rotate(-90) translate(-483.24,1001.10) scale(1.1904,1)" font-size="21.21" fill="#e0475f" stroke="#ffffff" stroke-width="0.5">2</text><text transform="rotate(-90) translate(-471.70,996.98) scale(1.0512,1)" font-size="32.24" fill="#e0475f" stroke="#ffffff" stroke-width="0.5">Se</text><text transform="rotate(-90) translate(-436.30,1001.46) scale(1.0320,1)" font-size="23.58" fill="#e0475f" stroke="#ffffff" stroke-width="0.5">3</text><path d="M659.0,33.5 L664.7,38.9 L669.6,43.8 L673.7,45.4 L678.6,44.4 L683.5,42.2 L689.2,35.1 L694.1,31.9 L699.0,29.4 L702.6,28.1 L705.5,30.2 L708.0,39.2 L710.4,50.6 L712.9,63.7 L715.0,72.7 L717.8,76.5 L719.5,77.2 L721.1,79.2 L724.3,76.8 L726.0,78.2 L727.6,78.4 L730.1,76.0 L733.3,76.5 L735.3,75.5 L737.4,75.5 L739.0,81.7 L740.7,86.6 L743.1,85.0 L745.6,86.6 L748.0,89.0 L750.5,85.8 L752.9,88.2 L755.4,83.3 L757.8,79.2 L759.5,79.7 L761.1,80.9 L762.8,81.6 L764.4,81.7 L766.0,80.4 L767.6,79.7 L770.1,80.1 L772.5,73.5 L774.1,71.9 L775.8,69.4 L777.5,69.6 L779.1,70.3 L781.5,74.3 L783.1,76.8 L784.8,78.4 L786.4,78.6 L788.0,80.1 L790.5,77.6 L793.0,82.5 L795.4,85.8 L797.9,84.1 L800.3,78.4 L802.8,74.3 L804.4,73.8 L806.0,73.5 L807.6,74.6 L809.3,76.8 L811.0,79.2 L812.6,82.5 L813.3,85.0 L814.2,86.6 L815.7,86.6 L817.4,83.4 L819.0,80.9 L820.6,78.1 L822.3,76.5 L823.9,80.1 L825.5,83.3 L827.1,85.9 L828.8,88.2 L830.5,84.9 L832.1,80.9 L835.3,74.8 L837.3,75.8 L839.4,76.8 L841.5,78.6 L843.5,80.1 L845.5,81.9 L847.6,82.5 L850.0,86.6 L852.0,84.7 L854.1,81.7 L855.8,82.4 L857.4,83.3 L859.0,82.5 L860.6,81.7 L862.2,83.8 L863.9,86.6 L865.5,87.9 L867.2,89.0 L868.8,86.6 L870.5,88.8 L872.1,90.7 L874.5,84.1 L877.0,80.1 L879.4,78.4 L881.9,76.0 L884.3,80.1 L886.0,82.5 L888.4,78.4 L890.9,68.6 L893.3,57.2 L895.0,49.8 L898.2,44.1 L902.3,40.0 L908.0,35.1 L913.7,28.6 L919.5,22.1 L924.4,17.6 L928.4,15.5 L934.2,15.8 L940.7,16.0 L947.2,17.0 L953.8,16.7 L958.7,16.0 L963.6,13.9 L971.2,10.6" fill="none" stroke="#625e5f" stroke-width="3.9" stroke-linejoin="round" stroke-linecap="butt"/><path d="M659.0,82.5 L663.9,85.0 L668.0,89.9 L672.1,92.8 L677.0,92.3 L680.2,93.4 L683.5,94.8 L686.8,91.5 L690.8,85.0 L694.9,81.2 L699.0,80.5 L703.1,80.1 L706.4,81.7 L708.8,88.2 L711.3,99.7 L712.9,109.5 L714.5,116.0 L715.3,117.2 L717.0,119.3 L718.6,121.2 L720.2,123.9 L721.9,126.1 L724.0,128.7 L726.0,130.2 L728.0,130.8 L730.1,131.0 L733.3,132.7 L735.0,131.0 L736.6,130.2 L738.2,130.9 L739.9,131.9 L741.5,131.9 L743.1,131.9 L745.6,127.0 L748.8,121.2 L751.3,127.8 L753.7,133.5 L755.4,131.5 L757.0,130.2 L758.6,128.1 L760.3,125.3 L762.7,123.7 L764.4,125.1 L766.0,127.8 L768.0,129.4 L770.1,130.2 L772.2,130.9 L774.2,131.9 L776.2,130.2 L778.2,129.4 L779.9,131.2 L781.5,131.9 L783.1,128.4 L784.8,126.1 L786.4,123.7 L788.0,122.1 L790.5,126.1 L792.1,128.7 L793.8,131.9 L795.8,133.5 L797.9,135.1 L799.5,133.1 L801.1,130.2 L802.8,128.1 L804.4,127.0 L806.5,125.6 L808.5,125.3 L810.1,125.2 L811.8,126.1 L813.4,125.8 L816.5,131.0 L818.5,132.7 L820.6,133.5 L822.2,132.5 L823.9,130.5 L825.5,129.1 L827.1,130.7 L828.8,131.9 L830.5,133.7 L832.1,135.1 L834.1,132.8 L836.1,131.9 L837.8,127.0 L839.4,122.9 L841.0,122.0 L842.7,122.1 L844.8,123.2 L846.8,125.3 L848.4,129.5 L850.0,133.5 L852.0,134.1 L854.1,134.3 L856.2,134.5 L858.2,135.1 L859.8,135.2 L861.5,134.6 L863.1,134.3 L864.8,129.8 L866.4,125.3 L868.0,125.3 L869.6,124.5 L871.2,126.5 L872.9,127.8 L875.0,127.6 L877.0,127.0 L879.0,126.0 L881.1,126.1 L884.3,129.4 L886.3,126.7 L888.4,125.3 L890.0,121.6 L891.7,118.0 L894.0,110.0 L896.0,103.0 L898.2,94.8 L902.3,89.9 L908.0,85.0 L914.6,78.4 L921.1,71.9 L926.8,67.5 L930.9,66.2 L937.4,66.7 L944.0,67.5 L950.5,67.8 L957.0,67.3 L963.6,65.0 L971.2,61.6" fill="none" stroke="#625e5f" stroke-width="3.9" stroke-linejoin="round" stroke-linecap="butt"/><path d="M659.8,127.8 L664.7,130.2 L670.4,135.1 L676.1,139.2 L682.7,140.8 L688.4,142.8 L693.3,137.6 L699.0,131.0 L703.9,128.6 L708.8,128.6 L712.9,132.7 L716.2,140.8 L719.4,150.6 L722.7,162.1 L725.2,171.9 L727.1,180.1 L729.2,182.5 L731.7,178.4 L734.1,171.1 L736.6,172.7 L739.0,178.4 L741.5,177.6 L743.1,176.9 L744.8,175.2 L746.4,172.4 L748.0,170.3 L750.5,173.5 L752.1,175.2 L753.7,176.8 L755.4,174.5 L757.0,172.7 L759.5,171.9 L761.1,173.7 L762.7,174.3 L764.4,177.6 L766.0,180.1 L767.6,177.7 L769.3,176.0 L771.3,174.6 L773.3,173.5 L775.3,174.3 L777.4,174.3 L779.0,173.6 L780.7,173.7 L782.3,173.5 L783.9,173.0 L785.6,173.5 L787.2,172.7 L788.8,173.0 L790.5,174.2 L792.1,174.3 L793.7,175.2 L795.4,175.0 L797.0,175.2 L798.6,175.2 L800.3,176.2 L801.9,176.8 L803.5,177.8 L805.2,177.9 L806.8,178.4 L808.8,175.7 L810.9,174.3 L812.5,172.3 L814.2,169.4 L817.4,167.0 L819.4,168.7 L821.4,170.3 L823.0,172.3 L824.7,175.2 L826.8,175.8 L828.8,176.8 L830.5,175.5 L832.1,174.3 L835.3,168.6 L837.0,172.6 L838.6,176.0 L840.2,174.9 L841.9,175.2 L843.9,172.2 L845.9,170.3 L848.0,171.7 L850.0,174.3 L851.6,175.1 L853.3,176.8 L855.3,177.3 L857.4,178.4 L859.0,180.2 L860.6,180.9 L862.7,177.7 L864.7,173.5 L866.4,170.1 L868.0,167.8 L869.6,171.2 L871.3,173.5 L872.9,175.6 L874.5,176.8 L876.5,176.7 L878.6,175.2 L880.7,174.8 L882.7,175.5 L884.8,176.0 L886.8,176.0 L888.5,173.6 L890.1,170.3 L892.1,168.3 L894.1,167.0 L896.6,160.4 L899.0,152.3 L902.3,144.1 L906.4,138.4 L912.9,132.7 L919.5,126.1 L926.0,118.8 L931.7,113.9 L937.4,112.3 L945.6,113.1 L953.8,113.9 L960.3,113.4 L971.3,110.3" fill="none" stroke="#625e5f" stroke-width="3.9" stroke-linejoin="round" stroke-linecap="butt"/><path d="M659.8,176.8 L666.3,177.6 L672.9,180.9 L679.4,185.8 L685.9,190.7 L692.5,193.1 L699.0,192.8 L703.9,189.9 L710.4,184.1 L716.2,179.7 L719.4,179.2 L722.7,181.4 L726.8,185.0 L731.7,191.5 L735.0,201.5 L735.8,199.7 L738.2,208.1 L739.9,207.8 L742.3,211.3 L744.8,212.7 L746.4,213.5 L748.0,214.6 L749.7,215.2 L752.9,217.9 L754.5,216.6 L756.2,216.9 L757.8,215.4 L759.5,218.0 L761.1,219.5 L762.8,222.2 L764.4,224.4 L766.0,226.4 L767.6,227.7 L769.2,226.4 L770.9,225.2 L772.5,222.8 L774.2,219.5 L777.4,218.7 L779.0,222.1 L780.7,225.2 L783.1,229.3 L784.8,226.6 L786.4,223.6 L788.0,220.8 L789.7,217.9 L791.8,218.9 L793.8,218.7 L795.0,217.5 L796.8,218.7 L798.6,218.5 L800.4,219.3 L802.6,221.0 L804.9,222.0 L807.1,223.1 L809.4,222.9 L811.2,224.9 L813.0,225.6 L814.8,227.2 L816.6,230.1 L818.4,227.6 L820.2,223.8 L822.0,220.8 L823.8,216.6 L826.5,213.9 L828.3,216.4 L830.1,219.3 L831.9,220.6 L833.7,222.0 L835.5,220.9 L837.3,220.2 L839.1,221.9 L840.9,224.7 L844.0,231.9 L845.6,230.1 L847.2,227.4 L849.0,223.5 L850.8,220.2 L853.0,218.2 L855.3,217.5 L857.1,217.2 L858.9,215.7 L862.0,214.8 L863.6,216.7 L865.2,218.4 L867.0,220.6 L868.8,222.0 L870.6,222.2 L872.4,223.8 L874.7,225.9 L877.0,228.3 L878.8,226.8 L880.6,224.7 L883.3,219.3 L885.1,218.5 L886.9,217.6 L888.7,217.5 L890.5,217.2 L892.3,217.6 L894.1,218.4 L896.0,218.7 L898.0,219.5 L900.7,220.1 L903.9,204.6 L908.0,193.1 L914.6,184.1 L922.7,173.5 L929.3,166.2 L935.8,161.8 L942.3,160.4 L948.9,160.8 L955.4,162.1 L960.3,162.9 L971.3,160.1" fill="none" stroke="#625e5f" stroke-width="3.9" stroke-linejoin="round" stroke-linecap="butt"/><path d="M660.6,213.0 L669.6,215.4 L679.4,218.7 L689.2,221.1 L699.0,223.1 L708.8,224.4 L717.0,226.0 L723.5,228.5 L731.7,234.2 L739.9,240.7 L748.0,248.1 L756.2,255.4 L762.7,263.6 L767.6,270.2 L772.5,274.2 L779.1,276.7 L785.6,278.3 L792.1,281.6 L795.0,283.3 L798.6,285.1 L800.4,288.4 L802.2,292.3 L804.9,295.9 L806.2,306.7 L807.1,317.5 L808.0,306.7 L809.4,299.5 L811.2,306.7 L813.0,299.5 L814.8,303.1 L816.3,293.2 L818.4,303.1 L820.2,295.9 L822.0,294.1 L823.8,293.2 L825.6,292.5 L827.4,293.2 L829.2,293.7 L831.0,293.2 L832.8,294.0 L834.6,294.1 L837.3,293.2 L838.2,302.2 L839.1,294.1 L841.8,287.8 L843.6,285.7 L845.4,283.3 L850.8,279.3 L858.0,277.5 L867.0,276.1 L874.2,274.2 L879.7,271.5 L885.1,267.0 L890.5,262.5 L895.9,257.1 L898.5,254.6 L900.0,252.6 L907.1,244.0 L917.7,232.3 L928.4,222.7 L939.0,214.1 L949.7,206.7 L960.4,202.0 L971.1,198.4" fill="none" stroke="#3a74c0" stroke-width="3.9" stroke-linejoin="round" stroke-linecap="butt"/><path d="M659.8,260.3 L669.6,263.6 L679.4,266.9 L690.8,270.2 L702.3,272.6 L713.7,275.1 L723.5,278.3 L733.3,283.2 L741.5,289.8 L749.7,297.9 L757.8,306.1 L764.4,311.8 L767.6,315.1 L775.8,320.2 L784.0,323.5 L792.1,325.1 L798.7,328.4 L800.0,328.8 L803.2,332.8 L807.2,338.4 L810.4,344.0 L812.0,347.2 L813.6,350.4 L815.5,360.0 L817.6,348.0 L820.0,340.8 L821.6,339.1 L823.2,338.4 L825.2,339.4 L827.2,339.2 L829.2,338.3 L831.2,337.6 L833.2,337.0 L835.2,336.8 L838.4,337.1 L840.8,340.0 L842.4,338.5 L844.0,337.6 L846.4,332.8 L848.0,331.0 L849.6,329.6 L852.0,328.4 L854.4,326.4 L860.8,324.0 L867.2,321.6 L873.6,320.0 L878.4,316.8 L881.6,313.6 L884.8,308.8 L888.8,303.2 L892.0,300.0 L898.5,295.2 L907.1,287.7 L915.6,280.2 L924.1,272.8 L929.5,268.5 L933.7,264.2 L938.0,260.6 L942.2,256.8 L944.4,261.0 L946.5,258.9 L949.7,261.0 L954.0,260.0 L958.2,262.1 L960.4,265.3 L963.6,263.2 L971.2,261.9" fill="none" stroke="#3a74c0" stroke-width="3.9" stroke-linejoin="round" stroke-linecap="butt"/><path d="M659.8,306.3 L669.6,309.6 L682.7,314.5 L695.7,318.6 L707.2,321.9 L718.6,325.1 L730.1,329.2 L739.9,334.9 L748.0,342.3 L754.6,350.4 L761.1,357.0 L767.6,361.9 L775.8,367.6 L784.0,370.9 L792.1,373.3 L798.7,375.8 L800.0,375.2 L803.2,378.4 L806.4,384.8 L808.8,394.4 L809.6,404.0 L811.2,383.2 L812.8,392.8 L814.4,402.4 L816.0,404.0 L817.6,392.8 L820.0,388.0 L822.0,386.1 L824.0,384.8 L826.0,384.1 L828.0,383.2 L830.0,383.0 L832.0,384.0 L834.4,385.4 L836.8,386.4 L839.2,383.2 L841.2,382.6 L843.2,381.6 L846.4,383.2 L848.0,379.8 L849.6,376.8 L852.0,375.0 L854.4,373.6 L860.8,370.4 L867.2,368.0 L873.6,365.3 L878.4,361.6 L883.2,356.0 L888.0,348.0 L892.0,340.0 L896.0,332.8 L898.4,322.4 L901.7,318.6 L904.9,322.9 L909.2,319.7 L915.6,314.4 L920.9,308.0 L924.1,302.6 L928.4,303.7 L932.7,299.4 L936.9,296.2 L941.2,296.2 L947.6,294.1 L954.0,292.0 L960.4,289.8 L964.6,291.3 L971.2,289.5" fill="none" stroke="#3a74c0" stroke-width="3.9" stroke-linejoin="round" stroke-linecap="butt"/><path d="M659.8,363.5 L671.2,366.0 L682.7,368.4 L694.1,371.7 L703.9,375.8 L708.8,380.0 L717.0,386.5 L721.9,394.7 L726.8,396.3 L728.4,396.6 L730.1,397.4 L731.7,398.8 L733.8,401.8 L735.8,403.7 L737.4,405.7 L739.1,407.4 L740.7,409.4 L742.8,406.8 L744.8,405.3 L746.4,405.4 L748.1,405.9 L749.7,406.1 L751.3,405.8 L753.0,407.2 L754.6,407.0 L756.6,408.3 L758.6,408.6 L760.7,409.6 L762.7,410.2 L764.8,411.2 L766.8,412.7 L768.8,413.2 L770.9,413.5 L772.5,412.6 L774.2,412.9 L775.8,412.7 L777.8,412.4 L779.9,411.0 L781.5,407.0 L784.0,408.6 L786.4,409.4 L788.0,410.6 L789.7,412.7 L791.8,414.4 L793.8,416.8 L795.8,413.3 L797.9,410.2 L799.5,409.8 L801.1,408.6 L802.8,410.5 L804.4,412.7 L806.8,417.6 L808.4,414.7 L810.0,412.3 L812.0,411.2 L814.1,409.0 L815.8,410.3 L817.4,412.3 L819.0,416.6 L820.6,419.6 L822.7,418.3 L824.7,417.2 L826.8,414.3 L828.8,410.6 L830.8,407.6 L832.9,405.7 L835.0,406.8 L837.0,406.6 L838.6,407.8 L840.3,408.7 L841.9,409.0 L843.9,410.9 L845.9,412.3 L848.0,412.3 L850.0,411.5 L852.5,415.5 L854.1,412.9 L855.7,410.6 L857.8,407.8 L859.8,404.1 L861.5,405.8 L863.1,407.4 L864.8,409.3 L866.4,412.3 L868.4,410.7 L870.4,408.2 L872.0,407.2 L873.7,404.9 L875.4,405.9 L877.0,407.4 L878.6,404.2 L880.2,401.7 L884.3,394.3 L888.4,387.8 L891.7,379.6 L895.8,373.9 L900.7,369.8 L908.0,366.5 L916.2,363.3 L924.4,361.6 L932.5,360.0 L940.0,357.2 L948.0,356.8 L956.0,355.6 L964.0,354.4 L971.2,353.2" fill="none" stroke="#e2455f" stroke-width="3.9" stroke-linejoin="round" stroke-linecap="butt"/><path d="M659.0,409.4 L669.6,411.9 L681.0,415.1 L690.8,419.2 L700.6,421.7 L708.8,425.7 L715.3,432.3 L721.9,439.6 L726.8,446.2 L731.7,451.9 L733.3,454.1 L735.0,454.9 L736.6,456.8 L738.7,454.8 L740.7,453.5 L743.9,452.7 L745.5,456.2 L747.2,458.4 L748.9,459.0 L750.5,460.0 L752.5,456.9 L754.6,454.3 L756.6,452.4 L758.6,451.1 L760.7,452.0 L762.7,452.7 L764.3,453.1 L766.0,452.7 L767.6,453.5 L769.2,453.5 L770.9,454.7 L772.5,454.3 L774.1,454.7 L775.8,454.2 L777.4,454.3 L779.0,456.5 L780.7,457.6 L782.4,458.1 L784.0,460.0 L786.0,457.8 L788.0,456.8 L790.0,455.5 L792.1,455.2 L793.7,455.6 L795.4,455.5 L797.0,456.0 L799.0,456.2 L801.1,455.2 L803.2,459.1 L805.2,463.3 L807.2,462.1 L809.3,460.0 L810.0,456.5 L811.6,457.0 L813.3,455.8 L814.9,456.5 L816.5,455.6 L818.2,454.4 L819.8,454.1 L821.4,453.1 L823.0,453.2 L824.7,451.5 L826.3,451.6 L828.3,454.4 L830.4,458.2 L832.5,459.8 L834.5,462.3 L836.5,460.3 L838.6,457.4 L840.7,460.0 L842.7,461.4 L844.8,463.5 L846.8,466.3 L848.4,467.0 L850.1,467.5 L851.7,467.2 L854.9,463.1 L857.0,458.7 L859.0,454.1 L860.6,452.3 L862.3,451.6 L864.3,454.0 L866.4,457.4 L868.0,458.3 L869.6,460.6 L871.7,460.9 L873.7,459.8 L876.2,454.9 L878.2,452.9 L880.2,450.8 L883.5,434.3 L888.4,426.2 L893.3,419.6 L899.9,413.9 L908.0,410.6 L916.2,408.2 L924.4,405.7 L934.2,403.3 L944.0,401.7 L953.8,400.8 L961.9,399.7 L971.3,397.3" fill="none" stroke="#e2455f" stroke-width="3.9" stroke-linejoin="round" stroke-linecap="butt"/><path d="M659.0,454.3 L669.6,457.6 L679.4,460.9 L689.2,464.1 L695.7,470.0 L702.3,476.5 L707.2,483.1 L712.9,488.0 L717.0,494.5 L721.9,501.9 L725.2,505.1 L727.2,504.3 L729.2,502.7 L731.2,501.5 L733.3,500.2 L735.0,500.9 L736.6,502.7 L738.2,501.4 L739.9,499.4 L741.9,500.7 L743.9,502.7 L746.0,504.4 L748.0,505.1 L749.6,504.1 L751.3,502.7 L753.0,501.8 L754.6,501.9 L757.8,504.3 L759.8,505.2 L761.9,505.9 L763.5,503.7 L765.2,502.7 L767.2,502.0 L769.3,501.0 L771.3,498.8 L773.3,497.0 L775.0,498.0 L776.6,500.2 L779.1,508.4 L781.5,514.1 L783.1,512.2 L784.8,510.8 L786.4,507.8 L788.0,505.9 L790.5,504.3 L792.1,505.6 L793.8,505.9 L795.8,505.0 L797.9,504.3 L799.9,502.6 L801.9,501.9 L804.0,501.1 L806.0,501.0 L808.0,502.1 L810.0,503.1 L811.6,503.1 L813.3,502.1 L814.9,502.3 L817.0,500.3 L819.0,499.0 L821.0,501.0 L823.1,502.3 L825.2,505.8 L827.2,508.0 L830.4,510.4 L832.0,507.2 L833.7,503.1 L835.4,504.7 L837.0,506.4 L839.0,508.2 L841.0,511.3 L842.6,507.2 L844.3,503.9 L846.8,498.2 L848.8,501.3 L850.8,503.9 L852.8,506.8 L854.9,509.6 L857.0,506.3 L859.0,502.3 L860.6,501.5 L862.3,501.5 L864.3,501.8 L866.4,501.5 L868.0,497.8 L869.6,494.1 L871.2,491.0 L872.9,486.8 L877.0,482.7 L881.9,478.6 L886.0,473.7 L890.1,466.3 L895.0,458.2 L899.9,452.8 L908.0,448.2 L916.2,446.6 L924.4,445.0 L932.5,443.3 L940.7,441.7 L948.9,440.5 L957.0,439.2 L971.3,438.7" fill="none" stroke="#e2455f" stroke-width="3.9" stroke-linejoin="round" stroke-linecap="butt"/><path d="M659.0,501.9 L668.0,504.3 L677.8,506.8 L687.6,510.8 L695.7,517.4 L702.3,523.9 L707.2,532.1 L709.6,540.2 L712.1,548.4 L715.3,553.3 L717.0,554.3 L718.6,555.0 L720.2,552.6 L721.9,550.0 L723.5,549.6 L725.2,548.3 L726.8,547.6 L728.4,548.2 L730.1,549.2 L731.7,550.9 L733.3,551.6 L735.0,551.9 L736.6,552.5 L738.7,553.4 L740.7,553.3 L743.9,557.4 L746.0,554.8 L748.0,553.3 L749.6,552.0 L751.3,551.2 L752.9,550.0 L754.5,550.6 L756.2,551.3 L757.8,550.9 L759.4,549.7 L761.1,549.1 L762.7,547.6 L764.3,548.0 L766.0,547.5 L767.6,548.4 L769.7,550.2 L771.7,551.7 L773.8,552.9 L775.8,555.0 L777.8,552.4 L779.9,550.9 L781.5,552.6 L783.1,555.0 L784.8,558.0 L786.4,560.7 L788.0,557.5 L789.7,555.0 L792.1,550.0 L793.8,549.0 L795.4,548.4 L797.0,550.5 L798.7,551.7 L800.8,549.4 L802.8,547.6 L804.4,550.2 L806.0,552.5 L808.0,553.5 L810.0,554.6 L811.9,553.4 L813.8,553.6 L815.7,552.1 L817.4,555.0 L819.0,557.0 L820.6,554.4 L822.3,551.3 L824.3,548.0 L826.3,545.6 L827.9,546.8 L829.6,547.2 L831.2,547.2 L832.8,547.6 L834.5,546.3 L836.1,546.4 L838.2,547.9 L840.2,549.7 L841.8,550.1 L843.5,550.4 L845.1,549.7 L846.7,548.5 L848.4,547.4 L850.0,545.6 L852.0,548.3 L854.1,550.5 L855.8,548.1 L857.4,546.4 L859.0,542.6 L860.6,538.2 L863.9,530.1 L868.8,526.0 L875.3,521.1 L880.2,515.3 L885.2,505.5 L890.1,497.4 L895.0,494.1 L901.5,493.3 L909.7,491.7 L917.8,490.0 L926.0,488.4 L932.5,485.9 L940.7,484.3 L948.9,483.5 L957.0,481.9 L971.3,480.0" fill="none" stroke="#e2455f" stroke-width="3.9" stroke-linejoin="round" stroke-linecap="butt"/><path d="M659.0,548.4 L668.0,550.0 L677.8,552.5 L685.9,556.6 L689.2,560.0 L695.7,564.9 L701.5,569.8 L703.9,576.3 L706.4,586.1 L709.6,593.5 L711.2,594.2 L712.9,595.1 L715.3,587.8 L717.0,587.0 L718.6,595.9 L720.2,599.8 L721.9,602.5 L724.0,604.0 L726.0,606.6 L728.0,603.3 L730.1,600.8 L732.1,599.6 L734.1,598.4 L736.2,597.3 L738.2,596.8 L739.9,598.0 L741.5,599.2 L743.1,596.9 L744.8,595.9 L746.4,598.8 L748.0,600.8 L749.6,602.7 L751.3,604.9 L753.0,600.9 L754.6,597.6 L756.6,594.9 L758.6,592.7 L760.7,593.3 L762.7,595.1 L764.8,597.8 L766.8,599.2 L768.8,597.9 L770.9,596.8 L772.5,595.3 L774.2,593.5 L777.4,598.4 L779.5,599.4 L781.5,600.8 L783.5,601.8 L785.6,604.1 L787.7,601.1 L789.7,598.4 L791.4,595.5 L793.0,591.9 L794.6,592.7 L796.2,594.3 L797.9,599.0 L799.5,602.5 L801.5,599.1 L803.6,595.9 L806.8,591.0 L808.4,593.5 L810.0,597.4 L811.6,597.1 L813.3,597.5 L814.9,598.2 L816.5,597.2 L818.2,595.0 L819.8,594.1 L821.5,595.7 L823.1,597.4 L826.3,603.9 L828.3,600.4 L830.4,598.2 L832.0,596.9 L833.7,594.4 L835.3,593.3 L837.3,594.9 L839.4,595.7 L841.5,597.7 L843.5,599.0 L845.1,598.6 L846.8,597.4 L849.2,594.1 L850.9,596.1 L852.5,597.4 L854.1,598.2 L855.7,598.2 L859.0,585.9 L862.3,575.3 L867.2,569.6 L873.7,563.1 L880.2,557.5 L888.4,549.7 L896.6,544.8 L906.4,541.5 L916.2,539.0 L924.4,538.2 L932.5,535.0 L940.7,532.5 L950.5,531.7 L960.3,530.1 L971.3,529.1" fill="none" stroke="#e2455f" stroke-width="3.9" stroke-linejoin="round" stroke-linecap="butt"/><path d="M659.0,591.0 L666.3,594.3 L672.9,597.6 L679.4,603.3 L685.9,609.0 L693.3,616.4 L695.7,622.1 L698.2,631.9 L701.5,640.1 L703.5,642.1 L705.5,643.3 L707.5,644.5 L709.6,645.8 L711.7,644.1 L713.7,642.5 L715.3,641.9 L717.0,642.4 L718.6,641.7 L720.7,644.7 L722.7,646.6 L724.8,650.5 L726.8,653.1 L728.5,649.9 L730.1,645.8 L733.3,641.7 L735.3,641.8 L737.4,640.9 L739.5,642.2 L741.5,644.1 L743.5,645.6 L745.6,645.8 L747.7,643.5 L749.7,642.5 L752.9,639.2 L754.5,641.4 L756.2,644.1 L757.9,645.3 L759.5,647.4 L761.5,645.8 L763.5,643.3 L765.1,641.5 L766.8,639.2 L768.5,642.8 L770.1,645.0 L773.3,651.5 L775.0,654.6 L776.6,656.4 L778.2,652.5 L779.9,649.0 L781.5,648.1 L783.1,647.4 L785.2,646.2 L787.2,644.1 L789.2,643.2 L791.3,641.7 L793.3,641.5 L795.4,640.9 L797.5,640.9 L799.5,640.1 L801.5,642.0 L803.6,645.0 L806.8,649.0 L808.6,646.3 L810.5,644.3 L812.3,642.3 L814.1,639.9 L816.2,642.3 L818.2,644.8 L820.1,647.1 L822.0,650.2 L823.9,652.1 L825.5,649.1 L827.2,647.2 L828.8,643.9 L830.7,644.3 L832.6,645.7 L834.5,645.6 L836.1,642.8 L837.8,640.5 L839.4,638.2 L841.0,642.0 L842.7,644.8 L844.8,647.5 L846.8,648.8 L848.4,644.6 L850.0,641.5 L854.1,628.4 L857.4,615.3 L859.8,603.9 L863.1,598.2 L868.8,595.7 L875.3,592.2 L883.5,590.0 L891.7,589.2 L898.2,588.9 L904.8,586.3 L912.9,583.5 L921.1,581.0 L927.6,579.4 L935.8,578.6 L944.0,577.0 L950.5,574.5 L957.0,572.1 L971.3,570.2" fill="none" stroke="#e2455f" stroke-width="3.9" stroke-linejoin="round" stroke-linecap="butt"/></svg></body></html>
